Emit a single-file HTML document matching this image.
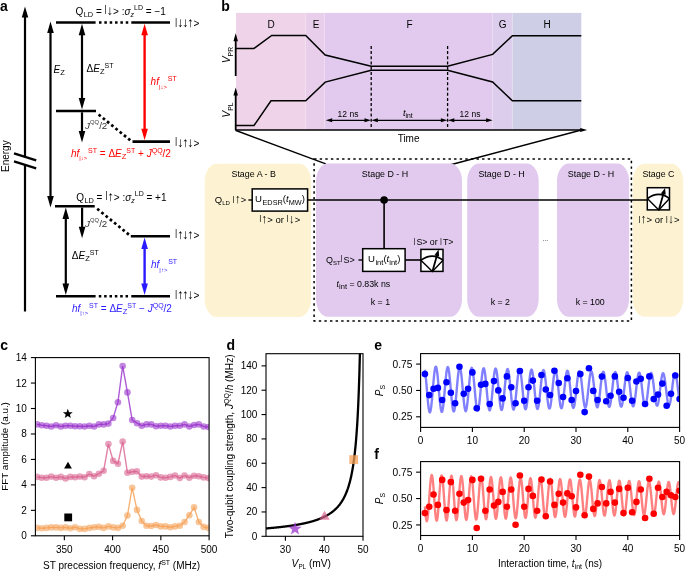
<!DOCTYPE html>
<html><head><meta charset="utf-8"><title>Figure</title>
<style>
html,body{margin:0;padding:0;background:#fff;}
svg{display:block;font-family:"Liberation Sans", Arial, sans-serif;}
</style></head>
<body>
<svg width="685" height="571" viewBox="0 0 685 571">
<rect width="685" height="571" fill="#fff"/>
<text x="0.00" y="10.90" font-size="14" text-anchor="start" fill="#000" font-weight="bold" font-style="normal" >a</text>
<line x1="25.00" y1="311.50" x2="25.00" y2="164.60" stroke="#000" stroke-width="2.2" />
<line x1="25.00" y1="157.00" x2="25.00" y2="16.00" stroke="#000" stroke-width="2.2" />
<polygon points="25.00,6.60 28.25,17.60 21.75,17.60" fill="#000"/>
<line x1="14.00" y1="153.30" x2="36.20" y2="160.40" stroke="#000" stroke-width="2.3" />
<line x1="14.00" y1="161.40" x2="36.20" y2="168.30" stroke="#000" stroke-width="2.3" />
<text x="8.80" y="156.20" font-size="10" text-anchor="middle" fill="#000" font-weight="normal" font-style="normal" transform="rotate(-90 8.8 156.2)">Energy</text>
<line x1="56.00" y1="22.50" x2="95.60" y2="22.50" stroke="#000" stroke-width="2.6" />
<line x1="99.00" y1="22.50" x2="128.40" y2="22.50" stroke="#000" stroke-width="2.6" stroke-dasharray="2.5,2.85"/>
<line x1="131.30" y1="22.50" x2="170.00" y2="22.50" stroke="#000" stroke-width="2.6" />
<line x1="56.00" y1="111.00" x2="96.00" y2="111.00" stroke="#000" stroke-width="2.6" />
<line x1="98.60" y1="114.50" x2="131.60" y2="141.40" stroke="#000" stroke-width="2.7" stroke-dasharray="2.7,2.75"/>
<line x1="132.50" y1="141.60" x2="170.00" y2="141.60" stroke="#000" stroke-width="2.6" />
<line x1="55.00" y1="206.30" x2="94.70" y2="206.30" stroke="#000" stroke-width="2.6" />
<line x1="97.20" y1="208.80" x2="130.60" y2="236.00" stroke="#000" stroke-width="2.7" stroke-dasharray="2.7,2.75"/>
<line x1="130.80" y1="236.20" x2="170.00" y2="236.20" stroke="#000" stroke-width="2.6" />
<line x1="56.00" y1="296.30" x2="95.60" y2="296.30" stroke="#000" stroke-width="2.6" />
<line x1="98.80" y1="296.30" x2="128.20" y2="296.30" stroke="#000" stroke-width="2.6" stroke-dasharray="2.5,2.85"/>
<line x1="131.30" y1="296.30" x2="170.00" y2="296.30" stroke="#000" stroke-width="2.6" />
<line x1="50.50" y1="197.00" x2="50.50" y2="32.10" stroke="#000" stroke-width="2.2" />
<polygon points="50.50,21.60 53.80,33.10 47.20,33.10" fill="#000"/>
<polygon points="50.50,207.50 47.20,196.00 53.80,196.00" fill="#000"/>
<line x1="82.00" y1="99.10" x2="82.00" y2="34.30" stroke="#000" stroke-width="2.2" />
<polygon points="82.00,23.80 85.30,35.30 78.70,35.30" fill="#000"/>
<polygon points="82.00,109.60 78.70,98.10 85.30,98.10" fill="#000"/>
<line x1="82.00" y1="112.30" x2="82.00" y2="132.00" stroke="#000" stroke-width="2.2" />
<polygon points="82.00,142.50 78.70,131.00 85.30,131.00" fill="#000"/>
<line x1="144.60" y1="129.70" x2="144.60" y2="34.30" stroke="#f00" stroke-width="2.4" />
<polygon points="144.60,23.80 147.90,35.30 141.30,35.30" fill="#f00"/>
<polygon points="144.60,140.20 141.30,128.70 147.90,128.70" fill="#f00"/>
<line x1="65.80" y1="284.50" x2="65.80" y2="218.10" stroke="#000" stroke-width="2.2" />
<polygon points="65.80,207.60 69.10,219.10 62.50,219.10" fill="#000"/>
<polygon points="65.80,295.00 62.50,283.50 69.10,283.50" fill="#000"/>
<line x1="82.10" y1="207.60" x2="82.10" y2="227.70" stroke="#000" stroke-width="2.2" />
<polygon points="82.10,238.20 78.80,226.70 85.40,226.70" fill="#000"/>
<line x1="144.60" y1="284.50" x2="144.60" y2="248.10" stroke="#2a1aff" stroke-width="2.4" />
<polygon points="144.60,237.60 147.90,249.10 141.30,249.10" fill="#2a1aff"/>
<polygon points="144.60,295.00 141.30,283.50 147.90,283.50" fill="#2a1aff"/>
<text x="75.6" y="14.5" font-size="10" fill="#000">Q<tspan font-size="7.4" dy="2.3" dx="0.3">LD</tspan><tspan dy="-2.3"> = </tspan><tspan font-size="8.50" dy="-2.50">|</tspan><tspan font-size="13.50" dy="2.50" dx="-0.20">↓</tspan><tspan dx="-0.20">&gt; :</tspan><tspan font-style="italic">σ</tspan><tspan font-style="italic" font-size="7" dy="2">z</tspan><tspan font-size="7" dy="-6.5">LD</tspan><tspan dy="4.5"> = −1</tspan></text>
<text x="76.3" y="200.5" font-size="10" fill="#000">Q<tspan font-size="7.4" dy="2.3" dx="0.3">LD</tspan><tspan dy="-2.3"> = </tspan><tspan font-size="8.50" dy="-2.50">|</tspan><tspan font-size="13.50" dy="2.50" dx="-0.20">↑</tspan><tspan dx="-0.20">&gt; :</tspan><tspan font-style="italic">σ</tspan><tspan font-style="italic" font-size="7" dy="2">z</tspan><tspan font-size="7" dy="-6.5">LD</tspan><tspan dy="4.5"> = +1</tspan></text>
<text x="175.00" y="27.40" font-size="10" text-anchor="start" fill="#000" font-weight="normal" font-style="normal" ><tspan font-size="8.50" dy="-2.50">|</tspan><tspan font-size="13.50" dy="2.50" dx="-0.20">↓</tspan><tspan font-size="13.50" dx="-1.75">↓</tspan><tspan font-size="13.50" dx="-1.75">↑</tspan><tspan dx="-0.20">&gt;</tspan></text>
<text x="175.00" y="146.60" font-size="10" text-anchor="start" fill="#000" font-weight="normal" font-style="normal" ><tspan font-size="8.50" dy="-2.50">|</tspan><tspan font-size="13.50" dy="2.50" dx="-0.20">↓</tspan><tspan font-size="13.50" dx="-1.75">↑</tspan><tspan font-size="13.50" dx="-1.75">↓</tspan><tspan dx="-0.20">&gt;</tspan></text>
<text x="175.00" y="238.70" font-size="10" text-anchor="start" fill="#000" font-weight="normal" font-style="normal" ><tspan font-size="8.50" dy="-2.50">|</tspan><tspan font-size="13.50" dy="2.50" dx="-0.20">↑</tspan><tspan font-size="13.50" dx="-1.75">↓</tspan><tspan font-size="13.50" dx="-1.75">↑</tspan><tspan dx="-0.20">&gt;</tspan></text>
<text x="175.00" y="299.20" font-size="10" text-anchor="start" fill="#000" font-weight="normal" font-style="normal" ><tspan font-size="8.50" dy="-2.50">|</tspan><tspan font-size="13.50" dy="2.50" dx="-0.20">↑</tspan><tspan font-size="13.50" dx="-1.75">↑</tspan><tspan font-size="13.50" dx="-1.75">↓</tspan><tspan dx="-0.20">&gt;</tspan></text>
<text x="53.6" y="73.4" font-size="10"><tspan font-style="italic">E</tspan><tspan font-size="7.5" dy="1.5">Z</tspan></text>
<text x="86.6" y="72.4" font-size="10" fill="#000" text-anchor="start" ><tspan>Δ</tspan><tspan font-style="italic">E</tspan><tspan font-size="7.5" dy="1.80">Z</tspan><tspan font-size="7" dy="-6.00">ST</tspan></text>
<text x="71.8" y="259.3" font-size="10" fill="#000" text-anchor="start" ><tspan>Δ</tspan><tspan font-style="italic">E</tspan><tspan font-size="7.5" dy="1.80">Z</tspan><tspan font-size="7" dy="-6.00">ST</tspan></text>
<text x="85.0" y="129.0" font-size="9.8" fill="#333" text-anchor="start" ><tspan font-style="italic">J</tspan><tspan font-size="5.8" dy="-4.60" dx="0.2">QQ</tspan><tspan dy="4.60">/2</tspan></text>
<text x="85.0" y="226.7" font-size="9.8" fill="#333" text-anchor="start" ><tspan font-style="italic">J</tspan><tspan font-size="5.8" dy="-4.60" dx="0.2">QQ</tspan><tspan dy="4.60">/2</tspan></text>
<text x="150.6" y="85.3" font-size="10" fill="#f00" text-anchor="start" ><tspan font-style="italic">hf</tspan><tspan font-size="6" dy="3.40">|↓&gt;</tspan><tspan font-size="7" dy="-7.60" dx="0.8">ST</tspan></text>
<text x="151.0" y="268.3" font-size="10" fill="#2a1aff" text-anchor="start" ><tspan font-style="italic">hf</tspan><tspan font-size="6" dy="3.40">|↑&gt;</tspan><tspan font-size="7" dy="-7.60" dx="0.8">ST</tspan></text>
<text x="71.0" y="156.5" font-size="10" fill="#f00" text-anchor="start" ><tspan font-style="italic">hf</tspan><tspan font-size="5.8" dy="3.80">|↓&gt;</tspan><tspan font-size="7" dy="-7.80" dx="0.9">ST</tspan><tspan dy="4.00"> = Δ</tspan><tspan font-style="italic">E</tspan><tspan font-size="7.5" dy="2.80">Z</tspan><tspan font-size="7" dy="-6.80">ST</tspan><tspan dy="4.00"> + </tspan><tspan font-style="italic">J</tspan><tspan font-size="7" dy="-3.20">QQ</tspan><tspan dy="3.20">/2</tspan></text>
<text x="72.0" y="311.6" font-size="10" fill="#2a1aff" text-anchor="start" ><tspan font-style="italic">hf</tspan><tspan font-size="5.8" dy="3.80">|↑&gt;</tspan><tspan font-size="7" dy="-7.80" dx="0.9">ST</tspan><tspan dy="4.00"> = Δ</tspan><tspan font-style="italic">E</tspan><tspan font-size="7.5" dy="2.80">Z</tspan><tspan font-size="7" dy="-6.80">ST</tspan><tspan dy="4.00"> − </tspan><tspan font-style="italic">J</tspan><tspan font-size="7" dy="-3.20">QQ</tspan><tspan dy="3.20">/2</tspan></text>
<text x="221.20" y="10.90" font-size="14" text-anchor="start" fill="#000" font-weight="bold" font-style="normal" >b</text>
<rect x="236" y="12.9" width="69.7" height="116.9" fill="#efd4e9"/>
<rect x="305.7" y="12.9" width="19" height="116.9" fill="#e9ceeb"/>
<rect x="324.7" y="12.9" width="167.9" height="116.9" fill="#e1caee"/>
<rect x="492.6" y="12.9" width="19.8" height="116.9" fill="#dccdec"/>
<rect x="512.4" y="12.9" width="68.9" height="116.9" fill="#cecfe6"/>
<line x1="305.50" y1="12.90" x2="305.50" y2="129.80" stroke="#f4eaf4" stroke-width="0.8" opacity="0.4"/>
<line x1="324.60" y1="12.90" x2="324.60" y2="129.80" stroke="#f4eaf4" stroke-width="0.8" opacity="0.4"/>
<line x1="492.40" y1="12.90" x2="492.40" y2="129.80" stroke="#f4eaf4" stroke-width="0.8" opacity="0.4"/>
<line x1="512.20" y1="12.90" x2="512.20" y2="129.80" stroke="#f4eaf4" stroke-width="0.8" opacity="0.4"/>
<text x="271.00" y="27.90" font-size="10" text-anchor="middle" fill="#000" font-weight="normal" font-style="normal" >D</text>
<text x="316.00" y="27.90" font-size="10" text-anchor="middle" fill="#000" font-weight="normal" font-style="normal" >E</text>
<text x="409.60" y="27.90" font-size="10" text-anchor="middle" fill="#000" font-weight="normal" font-style="normal" >F</text>
<text x="502.60" y="27.90" font-size="10" text-anchor="middle" fill="#000" font-weight="normal" font-style="normal" >G</text>
<text x="547.00" y="27.90" font-size="10" text-anchor="middle" fill="#000" font-weight="normal" font-style="normal" >H</text>
<line x1="235.70" y1="76.00" x2="235.70" y2="40.20" stroke="#000" stroke-width="1.8" />
<polygon points="235.70,33.20 237.95,41.20 233.45,41.20" fill="#000"/>
<line x1="235.70" y1="130.00" x2="235.70" y2="94.50" stroke="#000" stroke-width="1.8" />
<polygon points="235.70,87.50 237.95,95.50 233.45,95.50" fill="#000"/>
<line x1="235.00" y1="130.00" x2="581.20" y2="130.00" stroke="#000" stroke-width="1.7" />
<polygon points="587.20,130.00 580.20,132.10 580.20,127.90" fill="#000"/>
<text x="230.4" y="55" font-size="10" text-anchor="middle" transform="rotate(-90 230.4 55)"><tspan font-style="italic">V</tspan><tspan font-size="6.8" dy="2.4">PR</tspan></text>
<text x="230.4" y="110" font-size="10" text-anchor="middle" transform="rotate(-90 230.4 110)"><tspan font-style="italic">V</tspan><tspan font-size="6.8" dy="2.4">PL</tspan></text>
<polyline points="236.00,48.40 254.00,48.40 271.70,35.50 305.70,35.50 325.20,55.00 371.20,66.20 447.60,66.20 492.60,54.40 512.40,35.70 581.30,35.70" fill="none" stroke="#000" stroke-width="1.5" stroke-linejoin="miter" />
<polyline points="236.00,125.50 254.00,125.50 271.00,100.80 305.70,100.80 325.20,82.10 371.20,70.20 447.60,70.20 492.60,82.00 512.40,100.80 581.30,100.80" fill="none" stroke="#000" stroke-width="1.5" stroke-linejoin="miter" />
<line x1="371.20" y1="45.90" x2="371.20" y2="129.00" stroke="#000" stroke-width="1.3" stroke-dasharray="3,2.2"/>
<line x1="447.60" y1="45.90" x2="447.60" y2="129.00" stroke="#000" stroke-width="1.3" stroke-dasharray="3,2.2"/>
<line x1="331.20" y1="120.30" x2="365.50" y2="120.30" stroke="#000" stroke-width="1.2" />
<polygon points="371.00,120.30 364.50,122.30 364.50,118.30" fill="#000"/>
<polygon points="325.70,120.30 332.20,118.30 332.20,122.30" fill="#000"/>
<line x1="376.90" y1="120.30" x2="441.90" y2="120.30" stroke="#000" stroke-width="1.2" />
<polygon points="447.40,120.30 440.90,122.30 440.90,118.30" fill="#000"/>
<polygon points="371.40,120.30 377.90,118.30 377.90,122.30" fill="#000"/>
<line x1="453.30" y1="120.30" x2="487.10" y2="120.30" stroke="#000" stroke-width="1.2" />
<polygon points="492.60,120.30 486.10,122.30 486.10,118.30" fill="#000"/>
<polygon points="447.80,120.30 454.30,118.30 454.30,122.30" fill="#000"/>
<text x="348.00" y="116.50" font-size="8.5" text-anchor="middle" fill="#000" font-weight="normal" font-style="normal" >12 ns</text>
<text x="470.00" y="116.50" font-size="8.5" text-anchor="middle" fill="#000" font-weight="normal" font-style="normal" >12 ns</text>
<text x="407.8" y="116" font-size="9.5" text-anchor="middle"><tspan font-style="italic">t</tspan><tspan font-size="6.8" dy="2.2">int</tspan></text>
<text x="408.60" y="142.00" font-size="10" text-anchor="middle" fill="#000" font-weight="normal" font-style="normal" >Time</text>
<line x1="236.00" y1="130.50" x2="325.80" y2="163.80" stroke="#000" stroke-width="1.4" />
<line x1="580.50" y1="130.30" x2="450.60" y2="164.80" stroke="#000" stroke-width="1.4" />
<rect x="204.7" y="163.7" width="106.30" height="153.20" rx="12" ry="18" fill="#fdf3d2"/>
<rect x="316" y="163.5" width="146.00" height="153.30" rx="12" ry="18" fill="#e1caee"/>
<rect x="467.2" y="163.5" width="71.50" height="153.30" rx="12" ry="18" fill="#e1caee"/>
<rect x="557" y="163.5" width="72.10" height="153.30" rx="12" ry="18" fill="#e1caee"/>
<rect x="632.7" y="163.7" width="50.50" height="153.00" rx="12" ry="18" fill="#fdf3d2"/>
<rect x="314.1" y="158.9" width="317.3" height="162.1" fill="none" stroke="#000" stroke-width="1.5" stroke-dasharray="2.4,3.2"/>
<text x="253.70" y="177.00" font-size="8.9" text-anchor="middle" fill="#000" font-weight="normal" font-style="normal" >Stage A - B</text>
<text x="385.00" y="177.10" font-size="8.9" text-anchor="middle" fill="#000" font-weight="normal" font-style="normal" >Stage D - H</text>
<text x="501.60" y="177.20" font-size="8.9" text-anchor="middle" fill="#000" font-weight="normal" font-style="normal" >Stage D - H</text>
<text x="591.00" y="177.40" font-size="8.9" text-anchor="middle" fill="#000" font-weight="normal" font-style="normal" >Stage D - H</text>
<text x="658.50" y="177.40" font-size="8.9" text-anchor="middle" fill="#000" font-weight="normal" font-style="normal" >Stage C</text>
<line x1="248.40" y1="200.00" x2="252.20" y2="200.00" stroke="#000" stroke-width="1.4" />
<line x1="307.60" y1="200.00" x2="647.50" y2="200.00" stroke="#000" stroke-width="1.4" />
<rect x="252.2" y="188.9" width="55.4" height="22.2" fill="#fff" stroke="#000" stroke-width="1.5"/>
<text x="279.9" y="201.6" font-size="9.6" text-anchor="middle">U<tspan font-size="7.3" dy="3.2" dx="0.6">EDSR</tspan><tspan dy="-3.2">(</tspan><tspan font-style="italic">t</tspan><tspan font-size="7.3" dy="3.2">MW</tspan><tspan dy="-3.2">)</tspan></text>
<text x="214.8" y="203.4" font-size="9.5">Q<tspan font-size="6" dy="1.8">LD</tspan><tspan dy="-1.8"> </tspan><tspan font-size="8.07" dy="-2.38">|</tspan><tspan font-size="12.83" dy="2.38" dx="-0.19">↑</tspan><tspan dx="-0.19">&gt;</tspan></text>
<text x="279.70" y="222.60" font-size="9.5" text-anchor="middle" fill="#000" font-weight="normal" font-style="normal" ><tspan font-size="8.07" dy="-2.38">|</tspan><tspan font-size="12.83" dy="2.38" dx="-0.19">↑</tspan><tspan dx="-0.19">&gt; or </tspan><tspan font-size="8.07" dy="-2.38">|</tspan><tspan font-size="12.83" dy="2.38" dx="-0.19">↓</tspan><tspan dx="-0.19">&gt;</tspan></text>
<circle cx="384.1" cy="200" r="3.8" fill="#000"/>
<line x1="384.10" y1="200.00" x2="384.10" y2="248.70" stroke="#000" stroke-width="1.6" />
<line x1="358.50" y1="260.00" x2="362.70" y2="260.00" stroke="#000" stroke-width="1.4" />
<line x1="405.10" y1="260.00" x2="420.90" y2="260.00" stroke="#000" stroke-width="1.6" />
<rect x="362.7" y="248.7" width="42.4" height="22.7" fill="#fff" stroke="#000" stroke-width="1.5"/>
<text x="384.2" y="261.5" font-size="9.6" text-anchor="middle">U<tspan font-size="7.5" dy="3" dx="0.5">int</tspan><tspan dy="-3">(</tspan><tspan font-style="italic">t</tspan><tspan font-size="7.5" dy="3">int</tspan><tspan dy="-3">)</tspan></text>
<text x="325.9" y="262.6" font-size="9">Q<tspan font-size="6" dy="2.6">ST</tspan><tspan font-size="7.65" dy="-4.85">|</tspan><tspan dy="2.25" dx="0.90">S&gt;</tspan></text>
<text x="433.50" y="245.20" font-size="8.8" text-anchor="middle" fill="#000" font-weight="normal" font-style="normal" ><tspan font-size="7.48" dy="-2.20">|</tspan><tspan dy="2.20" dx="0.88">S&gt; or </tspan><tspan font-size="7.48" dy="-2.20">|</tspan><tspan dy="2.20" dx="0.88">T&gt;</tspan></text>
<text x="336.6" y="286.6" font-size="8.8"><tspan font-style="italic">t</tspan><tspan font-size="7.5" dy="2.2">int</tspan><tspan dy="-2.2"> = 0.83k ns</tspan></text>
<text x="380.40" y="304.60" font-size="8.8" text-anchor="middle" fill="#000" font-weight="normal" font-style="normal" >k = 1</text>
<text x="500.30" y="305.20" font-size="8.8" text-anchor="middle" fill="#000" font-weight="normal" font-style="normal" >k = 2</text>
<text x="590.20" y="305.20" font-size="8.8" text-anchor="middle" fill="#000" font-weight="normal" font-style="normal" >k = 100</text>
<text x="545.40" y="240.80" font-size="7" text-anchor="middle" fill="#333" font-weight="normal" font-style="normal" >...</text>
<rect x="420.9" y="249.4" width="22.10" height="22.00" fill="#fff" stroke="#000" stroke-width="1.5"/>
<path d="M420.90,260.18 L432.39,271.40 L443.00,260.18" fill="none" stroke="#000" stroke-width="1.4"/>
<path d="M420.90,260.18 Q432.39,252.04 443.00,260.18" fill="none" stroke="#000" stroke-width="1.7"/>
<line x1="432.39" y1="271.40" x2="437.08" y2="254.89" stroke="#000" stroke-width="1.8" />
<polygon points="438.58,249.60 439.21,256.54 434.40,255.17" fill="#000"/>
<rect x="647.3" y="187.7" width="22.20" height="22.20" fill="#fff" stroke="#000" stroke-width="1.5"/>
<path d="M647.30,198.58 L658.84,209.90 L669.50,198.58" fill="none" stroke="#000" stroke-width="1.4"/>
<path d="M647.30,198.58 Q658.84,190.36 669.50,198.58" fill="none" stroke="#000" stroke-width="1.7"/>
<line x1="658.84" y1="209.90" x2="663.56" y2="193.19" stroke="#000" stroke-width="1.8" />
<polygon points="665.06,187.90 665.70,194.83 660.89,193.48" fill="#000"/>
<text x="659.00" y="223.20" font-size="9.5" text-anchor="middle" fill="#000" font-weight="normal" font-style="normal" ><tspan font-size="8.07" dy="-2.38">|</tspan><tspan font-size="12.83" dy="2.38" dx="-0.19">↑</tspan><tspan dx="-0.19">&gt; or </tspan><tspan font-size="8.07" dy="-2.38">|</tspan><tspan font-size="12.83" dy="2.38" dx="-0.19">↓</tspan><tspan dx="-0.19">&gt;</tspan></text>
<text x="0.20" y="349.60" font-size="14" text-anchor="start" fill="#000" font-weight="bold" font-style="normal" >c</text>
<clipPath id="cclip"><rect x="35.4" y="357.6" width="173.7" height="178.19999999999993"/></clipPath>
<g clip-path="url(#cclip)">
<polyline points="37.00,527.90 41.76,528.30 46.52,527.90 51.28,527.40 56.04,527.40 60.80,527.90 65.56,527.40 70.32,528.30 75.08,527.20 79.84,528.90 84.60,528.90 89.36,527.90 94.12,527.20 98.88,526.90 103.64,527.90 108.40,526.40 113.16,527.40 117.92,527.90 122.68,525.70 127.44,515.50 132.20,487.70 136.96,509.90 141.72,521.00 146.48,525.70 151.24,526.00 156.00,525.00 160.76,526.40 165.52,526.40 170.28,527.20 175.04,526.40 179.80,525.70 184.56,522.00 189.32,515.20 194.08,507.40 198.84,522.00 203.60,526.90 208.36,527.90" fill="none" stroke="#f5a055" stroke-width="1.4" stroke-linejoin="miter" opacity="0.8"/>
<circle cx="37.00" cy="527.90" r="3.3" fill="#f5a055" fill-opacity="0.6"/>
<circle cx="41.76" cy="528.30" r="3.3" fill="#f5a055" fill-opacity="0.6"/>
<circle cx="46.52" cy="527.90" r="3.3" fill="#f5a055" fill-opacity="0.6"/>
<circle cx="51.28" cy="527.40" r="3.3" fill="#f5a055" fill-opacity="0.6"/>
<circle cx="56.04" cy="527.40" r="3.3" fill="#f5a055" fill-opacity="0.6"/>
<circle cx="60.80" cy="527.90" r="3.3" fill="#f5a055" fill-opacity="0.6"/>
<circle cx="65.56" cy="527.40" r="3.3" fill="#f5a055" fill-opacity="0.6"/>
<circle cx="70.32" cy="528.30" r="3.3" fill="#f5a055" fill-opacity="0.6"/>
<circle cx="75.08" cy="527.20" r="3.3" fill="#f5a055" fill-opacity="0.6"/>
<circle cx="79.84" cy="528.90" r="3.3" fill="#f5a055" fill-opacity="0.6"/>
<circle cx="84.60" cy="528.90" r="3.3" fill="#f5a055" fill-opacity="0.6"/>
<circle cx="89.36" cy="527.90" r="3.3" fill="#f5a055" fill-opacity="0.6"/>
<circle cx="94.12" cy="527.20" r="3.3" fill="#f5a055" fill-opacity="0.6"/>
<circle cx="98.88" cy="526.90" r="3.3" fill="#f5a055" fill-opacity="0.6"/>
<circle cx="103.64" cy="527.90" r="3.3" fill="#f5a055" fill-opacity="0.6"/>
<circle cx="108.40" cy="526.40" r="3.3" fill="#f5a055" fill-opacity="0.6"/>
<circle cx="113.16" cy="527.40" r="3.3" fill="#f5a055" fill-opacity="0.6"/>
<circle cx="117.92" cy="527.90" r="3.3" fill="#f5a055" fill-opacity="0.6"/>
<circle cx="122.68" cy="525.70" r="3.3" fill="#f5a055" fill-opacity="0.6"/>
<circle cx="127.44" cy="515.50" r="3.3" fill="#f5a055" fill-opacity="0.6"/>
<circle cx="132.20" cy="487.70" r="3.3" fill="#f5a055" fill-opacity="0.6"/>
<circle cx="136.96" cy="509.90" r="3.3" fill="#f5a055" fill-opacity="0.6"/>
<circle cx="141.72" cy="521.00" r="3.3" fill="#f5a055" fill-opacity="0.6"/>
<circle cx="146.48" cy="525.70" r="3.3" fill="#f5a055" fill-opacity="0.6"/>
<circle cx="151.24" cy="526.00" r="3.3" fill="#f5a055" fill-opacity="0.6"/>
<circle cx="156.00" cy="525.00" r="3.3" fill="#f5a055" fill-opacity="0.6"/>
<circle cx="160.76" cy="526.40" r="3.3" fill="#f5a055" fill-opacity="0.6"/>
<circle cx="165.52" cy="526.40" r="3.3" fill="#f5a055" fill-opacity="0.6"/>
<circle cx="170.28" cy="527.20" r="3.3" fill="#f5a055" fill-opacity="0.6"/>
<circle cx="175.04" cy="526.40" r="3.3" fill="#f5a055" fill-opacity="0.6"/>
<circle cx="179.80" cy="525.70" r="3.3" fill="#f5a055" fill-opacity="0.6"/>
<circle cx="184.56" cy="522.00" r="3.3" fill="#f5a055" fill-opacity="0.6"/>
<circle cx="189.32" cy="515.20" r="3.3" fill="#f5a055" fill-opacity="0.6"/>
<circle cx="194.08" cy="507.40" r="3.3" fill="#f5a055" fill-opacity="0.6"/>
<circle cx="198.84" cy="522.00" r="3.3" fill="#f5a055" fill-opacity="0.6"/>
<circle cx="203.60" cy="526.90" r="3.3" fill="#f5a055" fill-opacity="0.6"/>
<circle cx="208.36" cy="527.90" r="3.3" fill="#f5a055" fill-opacity="0.6"/>
<polyline points="37.00,476.90 41.76,477.70 46.52,477.70 51.28,476.60 56.04,477.70 60.80,476.90 65.56,478.40 70.32,476.90 75.08,477.20 79.84,476.60 84.60,477.20 89.36,474.00 94.12,476.20 98.88,473.70 103.64,470.80 108.40,444.10 113.16,460.90 117.92,463.80 122.68,441.60 127.44,472.80 132.20,471.80 136.96,471.40 141.72,476.60 146.48,476.20 151.24,476.60 156.00,475.20 160.76,477.40 165.52,477.70 170.28,476.90 175.04,475.50 179.80,478.10 184.56,475.50 189.32,477.70 194.08,475.80 198.84,476.20 203.60,477.40 208.36,478.10" fill="none" stroke="#d9628f" stroke-width="1.4" stroke-linejoin="miter" opacity="0.8"/>
<circle cx="37.00" cy="476.90" r="3.3" fill="#d9628f" fill-opacity="0.6"/>
<circle cx="41.76" cy="477.70" r="3.3" fill="#d9628f" fill-opacity="0.6"/>
<circle cx="46.52" cy="477.70" r="3.3" fill="#d9628f" fill-opacity="0.6"/>
<circle cx="51.28" cy="476.60" r="3.3" fill="#d9628f" fill-opacity="0.6"/>
<circle cx="56.04" cy="477.70" r="3.3" fill="#d9628f" fill-opacity="0.6"/>
<circle cx="60.80" cy="476.90" r="3.3" fill="#d9628f" fill-opacity="0.6"/>
<circle cx="65.56" cy="478.40" r="3.3" fill="#d9628f" fill-opacity="0.6"/>
<circle cx="70.32" cy="476.90" r="3.3" fill="#d9628f" fill-opacity="0.6"/>
<circle cx="75.08" cy="477.20" r="3.3" fill="#d9628f" fill-opacity="0.6"/>
<circle cx="79.84" cy="476.60" r="3.3" fill="#d9628f" fill-opacity="0.6"/>
<circle cx="84.60" cy="477.20" r="3.3" fill="#d9628f" fill-opacity="0.6"/>
<circle cx="89.36" cy="474.00" r="3.3" fill="#d9628f" fill-opacity="0.6"/>
<circle cx="94.12" cy="476.20" r="3.3" fill="#d9628f" fill-opacity="0.6"/>
<circle cx="98.88" cy="473.70" r="3.3" fill="#d9628f" fill-opacity="0.6"/>
<circle cx="103.64" cy="470.80" r="3.3" fill="#d9628f" fill-opacity="0.6"/>
<circle cx="108.40" cy="444.10" r="3.3" fill="#d9628f" fill-opacity="0.6"/>
<circle cx="113.16" cy="460.90" r="3.3" fill="#d9628f" fill-opacity="0.6"/>
<circle cx="117.92" cy="463.80" r="3.3" fill="#d9628f" fill-opacity="0.6"/>
<circle cx="122.68" cy="441.60" r="3.3" fill="#d9628f" fill-opacity="0.6"/>
<circle cx="127.44" cy="472.80" r="3.3" fill="#d9628f" fill-opacity="0.6"/>
<circle cx="132.20" cy="471.80" r="3.3" fill="#d9628f" fill-opacity="0.6"/>
<circle cx="136.96" cy="471.40" r="3.3" fill="#d9628f" fill-opacity="0.6"/>
<circle cx="141.72" cy="476.60" r="3.3" fill="#d9628f" fill-opacity="0.6"/>
<circle cx="146.48" cy="476.20" r="3.3" fill="#d9628f" fill-opacity="0.6"/>
<circle cx="151.24" cy="476.60" r="3.3" fill="#d9628f" fill-opacity="0.6"/>
<circle cx="156.00" cy="475.20" r="3.3" fill="#d9628f" fill-opacity="0.6"/>
<circle cx="160.76" cy="477.40" r="3.3" fill="#d9628f" fill-opacity="0.6"/>
<circle cx="165.52" cy="477.70" r="3.3" fill="#d9628f" fill-opacity="0.6"/>
<circle cx="170.28" cy="476.90" r="3.3" fill="#d9628f" fill-opacity="0.6"/>
<circle cx="175.04" cy="475.50" r="3.3" fill="#d9628f" fill-opacity="0.6"/>
<circle cx="179.80" cy="478.10" r="3.3" fill="#d9628f" fill-opacity="0.6"/>
<circle cx="184.56" cy="475.50" r="3.3" fill="#d9628f" fill-opacity="0.6"/>
<circle cx="189.32" cy="477.70" r="3.3" fill="#d9628f" fill-opacity="0.6"/>
<circle cx="194.08" cy="475.80" r="3.3" fill="#d9628f" fill-opacity="0.6"/>
<circle cx="198.84" cy="476.20" r="3.3" fill="#d9628f" fill-opacity="0.6"/>
<circle cx="203.60" cy="477.40" r="3.3" fill="#d9628f" fill-opacity="0.6"/>
<circle cx="208.36" cy="478.10" r="3.3" fill="#d9628f" fill-opacity="0.6"/>
<polyline points="37.00,424.40 41.76,425.30 46.52,425.70 51.28,426.50 56.04,425.30 60.80,426.50 65.56,425.70 70.32,425.70 75.08,426.20 79.84,426.20 84.60,426.50 89.36,425.70 94.12,426.50 98.88,424.40 103.64,424.40 108.40,423.60 113.16,418.00 117.92,402.20 122.68,366.10 127.44,392.40 132.20,420.00 136.96,423.20 141.72,425.70 146.48,424.40 151.24,424.40 156.00,426.20 160.76,425.80 165.52,425.70 170.28,426.50 175.04,425.80 179.80,425.80 184.56,424.40 189.32,426.50 194.08,425.00 198.84,424.40 203.60,426.50 208.36,427.00" fill="none" stroke="#9933cc" stroke-width="1.4" stroke-linejoin="miter" opacity="0.8"/>
<circle cx="37.00" cy="424.40" r="3.3" fill="#9933cc" fill-opacity="0.6"/>
<circle cx="41.76" cy="425.30" r="3.3" fill="#9933cc" fill-opacity="0.6"/>
<circle cx="46.52" cy="425.70" r="3.3" fill="#9933cc" fill-opacity="0.6"/>
<circle cx="51.28" cy="426.50" r="3.3" fill="#9933cc" fill-opacity="0.6"/>
<circle cx="56.04" cy="425.30" r="3.3" fill="#9933cc" fill-opacity="0.6"/>
<circle cx="60.80" cy="426.50" r="3.3" fill="#9933cc" fill-opacity="0.6"/>
<circle cx="65.56" cy="425.70" r="3.3" fill="#9933cc" fill-opacity="0.6"/>
<circle cx="70.32" cy="425.70" r="3.3" fill="#9933cc" fill-opacity="0.6"/>
<circle cx="75.08" cy="426.20" r="3.3" fill="#9933cc" fill-opacity="0.6"/>
<circle cx="79.84" cy="426.20" r="3.3" fill="#9933cc" fill-opacity="0.6"/>
<circle cx="84.60" cy="426.50" r="3.3" fill="#9933cc" fill-opacity="0.6"/>
<circle cx="89.36" cy="425.70" r="3.3" fill="#9933cc" fill-opacity="0.6"/>
<circle cx="94.12" cy="426.50" r="3.3" fill="#9933cc" fill-opacity="0.6"/>
<circle cx="98.88" cy="424.40" r="3.3" fill="#9933cc" fill-opacity="0.6"/>
<circle cx="103.64" cy="424.40" r="3.3" fill="#9933cc" fill-opacity="0.6"/>
<circle cx="108.40" cy="423.60" r="3.3" fill="#9933cc" fill-opacity="0.6"/>
<circle cx="113.16" cy="418.00" r="3.3" fill="#9933cc" fill-opacity="0.6"/>
<circle cx="117.92" cy="402.20" r="3.3" fill="#9933cc" fill-opacity="0.6"/>
<circle cx="122.68" cy="366.10" r="3.3" fill="#9933cc" fill-opacity="0.6"/>
<circle cx="127.44" cy="392.40" r="3.3" fill="#9933cc" fill-opacity="0.6"/>
<circle cx="132.20" cy="420.00" r="3.3" fill="#9933cc" fill-opacity="0.6"/>
<circle cx="136.96" cy="423.20" r="3.3" fill="#9933cc" fill-opacity="0.6"/>
<circle cx="141.72" cy="425.70" r="3.3" fill="#9933cc" fill-opacity="0.6"/>
<circle cx="146.48" cy="424.40" r="3.3" fill="#9933cc" fill-opacity="0.6"/>
<circle cx="151.24" cy="424.40" r="3.3" fill="#9933cc" fill-opacity="0.6"/>
<circle cx="156.00" cy="426.20" r="3.3" fill="#9933cc" fill-opacity="0.6"/>
<circle cx="160.76" cy="425.80" r="3.3" fill="#9933cc" fill-opacity="0.6"/>
<circle cx="165.52" cy="425.70" r="3.3" fill="#9933cc" fill-opacity="0.6"/>
<circle cx="170.28" cy="426.50" r="3.3" fill="#9933cc" fill-opacity="0.6"/>
<circle cx="175.04" cy="425.80" r="3.3" fill="#9933cc" fill-opacity="0.6"/>
<circle cx="179.80" cy="425.80" r="3.3" fill="#9933cc" fill-opacity="0.6"/>
<circle cx="184.56" cy="424.40" r="3.3" fill="#9933cc" fill-opacity="0.6"/>
<circle cx="189.32" cy="426.50" r="3.3" fill="#9933cc" fill-opacity="0.6"/>
<circle cx="194.08" cy="425.00" r="3.3" fill="#9933cc" fill-opacity="0.6"/>
<circle cx="198.84" cy="424.40" r="3.3" fill="#9933cc" fill-opacity="0.6"/>
<circle cx="203.60" cy="426.50" r="3.3" fill="#9933cc" fill-opacity="0.6"/>
<circle cx="208.36" cy="427.00" r="3.3" fill="#9933cc" fill-opacity="0.6"/>
</g>
<rect x="35.4" y="357.6" width="173.70" height="178.20" fill="none" stroke="#000" stroke-width="1.1"/>
<line x1="30.90" y1="535.80" x2="35.40" y2="535.80" stroke="#000" stroke-width="1.1" />
<text x="26.80" y="539.30" font-size="10" text-anchor="end" fill="#000" font-weight="normal" font-style="normal" >0</text>
<line x1="30.90" y1="510.34" x2="35.40" y2="510.34" stroke="#000" stroke-width="1.1" />
<text x="26.80" y="513.84" font-size="10" text-anchor="end" fill="#000" font-weight="normal" font-style="normal" >2</text>
<line x1="30.90" y1="484.89" x2="35.40" y2="484.89" stroke="#000" stroke-width="1.1" />
<text x="26.80" y="488.39" font-size="10" text-anchor="end" fill="#000" font-weight="normal" font-style="normal" >4</text>
<line x1="30.90" y1="459.43" x2="35.40" y2="459.43" stroke="#000" stroke-width="1.1" />
<text x="26.80" y="462.93" font-size="10" text-anchor="end" fill="#000" font-weight="normal" font-style="normal" >6</text>
<line x1="30.90" y1="433.97" x2="35.40" y2="433.97" stroke="#000" stroke-width="1.1" />
<text x="26.80" y="437.47" font-size="10" text-anchor="end" fill="#000" font-weight="normal" font-style="normal" >8</text>
<line x1="30.90" y1="408.51" x2="35.40" y2="408.51" stroke="#000" stroke-width="1.1" />
<text x="26.80" y="412.01" font-size="10" text-anchor="end" fill="#000" font-weight="normal" font-style="normal" >10</text>
<line x1="30.90" y1="383.06" x2="35.40" y2="383.06" stroke="#000" stroke-width="1.1" />
<text x="26.80" y="386.56" font-size="10" text-anchor="end" fill="#000" font-weight="normal" font-style="normal" >12</text>
<line x1="30.90" y1="357.60" x2="35.40" y2="357.60" stroke="#000" stroke-width="1.1" />
<text x="26.80" y="361.10" font-size="10" text-anchor="end" fill="#000" font-weight="normal" font-style="normal" >14</text>
<line x1="64.35" y1="535.80" x2="64.35" y2="540.30" stroke="#000" stroke-width="1.1" />
<text x="64.35" y="552.90" font-size="10" text-anchor="middle" fill="#000" font-weight="normal" font-style="normal" >350</text>
<line x1="112.60" y1="535.80" x2="112.60" y2="540.30" stroke="#000" stroke-width="1.1" />
<text x="112.60" y="552.90" font-size="10" text-anchor="middle" fill="#000" font-weight="normal" font-style="normal" >400</text>
<line x1="160.85" y1="535.80" x2="160.85" y2="540.30" stroke="#000" stroke-width="1.1" />
<text x="160.85" y="552.90" font-size="10" text-anchor="middle" fill="#000" font-weight="normal" font-style="normal" >450</text>
<line x1="209.10" y1="535.80" x2="209.10" y2="540.30" stroke="#000" stroke-width="1.1" />
<text x="209.10" y="552.90" font-size="10" text-anchor="middle" fill="#000" font-weight="normal" font-style="normal" >500</text>
<text x="7.70" y="446.40" font-size="9.8" text-anchor="middle" fill="#000" font-weight="normal" font-style="normal" transform="rotate(-90 7.7 446.4)">FFT amplitude (a.u.)</text>
<text x="121.6" y="568.8" font-size="10" text-anchor="middle">ST precession frequency, <tspan font-style="italic">f</tspan><tspan font-size="7" dy="-4">ST</tspan><tspan dy="4"> (MHz)</tspan></text>
<polygon points="67.80,408.70 69.08,412.13 72.75,412.29 69.88,414.57 70.86,418.11 67.80,416.08 64.74,418.11 65.72,414.57 62.85,412.29 66.52,412.13" fill="#000" fill-opacity="1.0"/>
<polygon points="68.00,461.73 71.90,468.51 64.10,468.51" fill="#000" fill-opacity="1.0"/>
<rect x="64.30" y="513.50" width="7.8" height="7.8" fill="#000" fill-opacity="1.0"/>
<text x="226.50" y="350.20" font-size="14" text-anchor="start" fill="#000" font-weight="bold" font-style="normal" >d</text>
<clipPath id="dclip"><rect x="266.0" y="353.7" width="97.0" height="182.59999999999997"/></clipPath>
<g clip-path="url(#dclip)">
<polyline points="266.00,528.42 266.19,528.41 266.38,528.39 266.57,528.38 266.76,528.36 266.95,528.35 267.14,528.33 267.33,528.31 267.52,528.30 267.71,528.28 267.91,528.27 268.10,528.25 268.29,528.23 268.48,528.22 268.67,528.20 268.86,528.19 269.05,528.17 269.24,528.15 269.43,528.14 269.62,528.12 269.81,528.10 270.00,528.09 270.19,528.07 270.38,528.05 270.57,528.04 270.76,528.02 270.95,528.00 271.14,527.98 271.33,527.97 271.52,527.95 271.72,527.93 271.91,527.92 272.10,527.90 272.29,527.88 272.48,527.86 272.67,527.84 272.86,527.83 273.05,527.81 273.24,527.79 273.43,527.77 273.62,527.75 273.81,527.74 274.00,527.72 274.19,527.70 274.38,527.68 274.57,527.66 274.76,527.64 274.95,527.63 275.14,527.61 275.33,527.59 275.53,527.57 275.72,527.55 275.91,527.53 276.10,527.51 276.29,527.49 276.48,527.47 276.67,527.45 276.86,527.43 277.05,527.42 277.24,527.40 277.43,527.38 277.62,527.36 277.81,527.34 278.00,527.32 278.19,527.30 278.38,527.28 278.57,527.26 278.76,527.24 278.95,527.22 279.14,527.19 279.34,527.17 279.53,527.15 279.72,527.13 279.91,527.11 280.10,527.09 280.29,527.07 280.48,527.05 280.67,527.03 280.86,527.01 281.05,526.98 281.24,526.96 281.43,526.94 281.62,526.92 281.81,526.90 282.00,526.88 282.19,526.85 282.38,526.83 282.57,526.81 282.76,526.79 282.95,526.76 283.15,526.74 283.34,526.72 283.53,526.70 283.72,526.67 283.91,526.65 284.10,526.63 284.29,526.60 284.48,526.58 284.67,526.56 284.86,526.53 285.05,526.51 285.24,526.49 285.43,526.46 285.62,526.44 285.81,526.41 286.00,526.39 286.19,526.36 286.38,526.34 286.57,526.32 286.76,526.29 286.96,526.27 287.15,526.24 287.34,526.22 287.53,526.19 287.72,526.16 287.91,526.14 288.10,526.11 288.29,526.09 288.48,526.06 288.67,526.04 288.86,526.01 289.05,525.98 289.24,525.96 289.43,525.93 289.62,525.90 289.81,525.88 290.00,525.85 290.19,525.82 290.38,525.80 290.57,525.77 290.77,525.74 290.96,525.71 291.15,525.69 291.34,525.66 291.53,525.63 291.72,525.60 291.91,525.57 292.10,525.54 292.29,525.52 292.48,525.49 292.67,525.46 292.86,525.43 293.05,525.40 293.24,525.37 293.43,525.34 293.62,525.31 293.81,525.28 294.00,525.25 294.19,525.22 294.38,525.19 294.58,525.16 294.77,525.13 294.96,525.10 295.15,525.07 295.34,525.03 295.53,525.00 295.72,524.97 295.91,524.94 296.10,524.91 296.29,524.87 296.48,524.84 296.67,524.81 296.86,524.78 297.05,524.74 297.24,524.71 297.43,524.68 297.62,524.64 297.81,524.61 298.00,524.58 298.19,524.54 298.39,524.51 298.58,524.47 298.77,524.44 298.96,524.40 299.15,524.37 299.34,524.33 299.53,524.30 299.72,524.26 299.91,524.23 300.10,524.19 300.29,524.15 300.48,524.12 300.67,524.08 300.86,524.04 301.05,524.01 301.24,523.97 301.43,523.93 301.62,523.89 301.81,523.86 302.00,523.82 302.20,523.78 302.39,523.74 302.58,523.70 302.77,523.66 302.96,523.62 303.15,523.58 303.34,523.54 303.53,523.50 303.72,523.46 303.91,523.42 304.10,523.38 304.29,523.34 304.48,523.30 304.67,523.25 304.86,523.21 305.05,523.17 305.24,523.13 305.43,523.08 305.62,523.04 305.81,523.00 306.01,522.95 306.20,522.91 306.39,522.86 306.58,522.82 306.77,522.78 306.96,522.73 307.15,522.68 307.34,522.64 307.53,522.59 307.72,522.55 307.91,522.50 308.10,522.45 308.29,522.40 308.48,522.36 308.67,522.31 308.86,522.26 309.05,522.21 309.24,522.16 309.43,522.11 309.62,522.06 309.82,522.01 310.01,521.96 310.20,521.91 310.39,521.86 310.58,521.81 310.77,521.76 310.96,521.70 311.15,521.65 311.34,521.60 311.53,521.54 311.72,521.49 311.91,521.44 312.10,521.38 312.29,521.33 312.48,521.27 312.67,521.22 312.86,521.16 313.05,521.10 313.24,521.05 313.43,520.99 313.63,520.93 313.82,520.87 314.01,520.81 314.20,520.75 314.39,520.69 314.58,520.63 314.77,520.57 314.96,520.51 315.15,520.45 315.34,520.39 315.53,520.32 315.72,520.26 315.91,520.20 316.10,520.13 316.29,520.07 316.48,520.00 316.67,519.94 316.86,519.87 317.05,519.81 317.24,519.74 317.44,519.67 317.63,519.60 317.82,519.53 318.01,519.46 318.20,519.39 318.39,519.32 318.58,519.25 318.77,519.18 318.96,519.11 319.15,519.03 319.34,518.96 319.53,518.89 319.72,518.81 319.91,518.74 320.10,518.66 320.29,518.58 320.48,518.50 320.67,518.43 320.86,518.35 321.05,518.27 321.25,518.19 321.44,518.11 321.63,518.02 321.82,517.94 322.01,517.86 322.20,517.77 322.39,517.69 322.58,517.60 322.77,517.52 322.96,517.43 323.15,517.34 323.34,517.25 323.53,517.16 323.72,517.07 323.91,516.98 324.10,516.89 324.29,516.80 324.48,516.70 324.67,516.61 324.86,516.51 325.06,516.42 325.25,516.32 325.44,516.22 325.63,516.12 325.82,516.02 326.01,515.92 326.20,515.81 326.39,515.71 326.58,515.61 326.77,515.50 326.96,515.39 327.15,515.28 327.34,515.18 327.53,515.07 327.72,514.95 327.91,514.84 328.10,514.73 328.29,514.61 328.48,514.50 328.67,514.38 328.87,514.26 329.06,514.14 329.25,514.02 329.44,513.90 329.63,513.77 329.82,513.65 330.01,513.52 330.20,513.39 330.39,513.26 330.58,513.13 330.77,513.00 330.96,512.86 331.15,512.73 331.34,512.59 331.53,512.45 331.72,512.31 331.91,512.17 332.10,512.03 332.29,511.88 332.48,511.73 332.68,511.58 332.87,511.43 333.06,511.28 333.25,511.13 333.44,510.97 333.63,510.81 333.82,510.65 334.01,510.49 334.20,510.32 334.39,510.16 334.58,509.99 334.77,509.82 334.96,509.64 335.15,509.47 335.34,509.29 335.53,509.11 335.72,508.93 335.91,508.74 336.10,508.56 336.29,508.37 336.49,508.17 336.68,507.98 336.87,507.78 337.06,507.58 337.25,507.37 337.44,507.17 337.63,506.96 337.82,506.74 338.01,506.53 338.20,506.31 338.39,506.09 338.58,505.86 338.77,505.63 338.96,505.40 339.15,505.17 339.34,504.93 339.53,504.68 339.72,504.44 339.91,504.18 340.10,503.93 340.30,503.67 340.49,503.41 340.68,503.14 340.87,502.87 341.06,502.59 341.25,502.31 341.44,502.03 341.63,501.74 341.82,501.44 342.01,501.14 342.20,500.83 342.39,500.52 342.58,500.21 342.77,499.88 342.96,499.56 343.15,499.22 343.34,498.88 343.53,498.54 343.72,498.18 343.91,497.83 344.11,497.46 344.30,497.09 344.49,496.71 344.68,496.32 344.87,495.92 345.06,495.52 345.25,495.11 345.44,494.69 345.63,494.26 345.82,493.82 346.01,493.38 346.20,492.92 346.39,492.45 346.58,491.98 346.77,491.49 346.96,491.00 347.15,490.49 347.34,489.97 347.53,489.44 347.72,488.89 347.92,488.34 348.11,487.77 348.30,487.18 348.49,486.58 348.68,485.97 348.87,485.34 349.06,484.70 349.25,484.04 349.44,483.36 349.63,482.67 349.82,481.96 350.01,481.22 350.20,480.47 350.39,479.70 350.58,478.90 350.77,478.09 350.96,477.25 351.15,476.38 351.34,475.49 351.53,474.57 351.73,473.62 351.92,472.65 352.11,471.64 352.30,470.60 352.49,469.53 352.68,468.42 352.87,467.28 353.06,466.09 353.25,464.86 353.44,463.59 353.63,462.28 353.82,460.91 354.01,459.50 354.20,458.03 354.39,456.50 354.58,454.91 354.77,453.26 354.96,451.54 355.15,449.75 355.34,447.88 355.54,445.93 355.73,443.88 355.92,441.75 356.11,439.51 356.30,437.17 356.49,434.71 356.68,432.12 356.87,429.40 357.06,426.53 357.25,423.51 357.44,420.31 357.63,416.93 357.82,413.34 358.01,409.53 358.20,405.48 358.39,401.17 358.58,396.55 358.77,391.61 358.96,386.31 359.15,380.61 359.35,374.46 359.54,367.80 359.73,360.56 359.92,352.68 360.11,344.07 360.30,334.60 360.49,324.15 360.68,312.56 360.87,299.63 361.06,285.12" fill="none" stroke="#000" stroke-width="2.3" stroke-linejoin="miter" />
</g>
<polygon points="295.00,521.80 296.73,526.42 301.66,526.64 297.80,529.71 299.11,534.46 295.00,531.74 290.89,534.46 292.20,529.71 288.34,526.64 293.27,526.42" fill="#9933cc" fill-opacity="0.75"/>
<polygon points="324.50,510.72 329.75,519.85 319.25,519.85" fill="#d9628f" fill-opacity="0.7"/>
<rect x="349.30" y="455.20" width="8.8" height="8.8" fill="#f5a055" fill-opacity="0.75"/>
<rect x="266.0" y="353.7" width="97.00" height="182.60" fill="none" stroke="#000" stroke-width="1.1"/>
<line x1="261.50" y1="536.30" x2="266.00" y2="536.30" stroke="#000" stroke-width="1.1" />
<text x="257.40" y="539.80" font-size="10" text-anchor="end" fill="#000" font-weight="normal" font-style="normal" >0</text>
<line x1="261.50" y1="511.95" x2="266.00" y2="511.95" stroke="#000" stroke-width="1.1" />
<text x="257.40" y="515.45" font-size="10" text-anchor="end" fill="#000" font-weight="normal" font-style="normal" >20</text>
<line x1="261.50" y1="487.61" x2="266.00" y2="487.61" stroke="#000" stroke-width="1.1" />
<text x="257.40" y="491.11" font-size="10" text-anchor="end" fill="#000" font-weight="normal" font-style="normal" >40</text>
<line x1="261.50" y1="463.26" x2="266.00" y2="463.26" stroke="#000" stroke-width="1.1" />
<text x="257.40" y="466.76" font-size="10" text-anchor="end" fill="#000" font-weight="normal" font-style="normal" >60</text>
<line x1="261.50" y1="438.91" x2="266.00" y2="438.91" stroke="#000" stroke-width="1.1" />
<text x="257.40" y="442.41" font-size="10" text-anchor="end" fill="#000" font-weight="normal" font-style="normal" >80</text>
<line x1="261.50" y1="414.57" x2="266.00" y2="414.57" stroke="#000" stroke-width="1.1" />
<text x="257.40" y="418.07" font-size="10" text-anchor="end" fill="#000" font-weight="normal" font-style="normal" >100</text>
<line x1="261.50" y1="390.22" x2="266.00" y2="390.22" stroke="#000" stroke-width="1.1" />
<text x="257.40" y="393.72" font-size="10" text-anchor="end" fill="#000" font-weight="normal" font-style="normal" >120</text>
<line x1="261.50" y1="365.87" x2="266.00" y2="365.87" stroke="#000" stroke-width="1.1" />
<text x="257.40" y="369.37" font-size="10" text-anchor="end" fill="#000" font-weight="normal" font-style="normal" >140</text>
<line x1="285.40" y1="536.30" x2="285.40" y2="540.80" stroke="#000" stroke-width="1.1" />
<text x="285.40" y="553.40" font-size="10" text-anchor="middle" fill="#000" font-weight="normal" font-style="normal" >30</text>
<line x1="324.20" y1="536.30" x2="324.20" y2="540.80" stroke="#000" stroke-width="1.1" />
<text x="324.20" y="553.40" font-size="10" text-anchor="middle" fill="#000" font-weight="normal" font-style="normal" >40</text>
<line x1="363.00" y1="536.30" x2="363.00" y2="540.80" stroke="#000" stroke-width="1.1" />
<text x="363.00" y="553.40" font-size="10" text-anchor="middle" fill="#000" font-weight="normal" font-style="normal" >50</text>
<text x="233.2" y="446.3" font-size="10.1" text-anchor="middle" transform="rotate(-90 233.2 446.3)">Two-qubit coupling strength, <tspan font-style="italic">J</tspan><tspan font-size="7" dy="-4">QQ</tspan><tspan dy="4">/</tspan><tspan font-style="italic">h</tspan> (MHz)</text>
<text x="311.3" y="567" font-size="10.2" text-anchor="middle"><tspan font-style="italic">V</tspan><tspan font-size="6.3" dy="1.8">PL</tspan><tspan dy="-1.8"> (mV)</tspan></text>
<text x="374.20" y="349.70" font-size="14" text-anchor="start" fill="#000" font-weight="bold" font-style="normal" >e</text>
<clipPath id="clipe"><rect x="420.6" y="353.6" width="259.0" height="73.79999999999995"/></clipPath>
<g clip-path="url(#clipe)">
<polyline points="424.92,369.75 425.13,371.22 425.34,372.92 425.55,374.82 425.77,376.90 425.98,379.13 426.19,381.49 426.40,383.95 426.62,386.47 426.83,389.03 427.04,391.59 427.25,394.12 427.47,396.59 427.68,398.97 427.89,401.23 428.10,403.34 428.32,405.28 428.53,407.01 428.74,408.53 428.95,409.81 429.16,410.83 429.38,411.59 429.59,412.07 429.80,412.27 430.01,412.18 430.23,411.81 430.44,411.16 430.65,410.24 430.86,409.07 431.08,407.65 431.29,406.00 431.50,404.15 431.71,402.11 431.93,399.92 432.14,397.60 432.35,395.18 432.56,392.68 432.78,390.15 432.99,387.61 433.20,385.10 433.41,382.64 433.63,380.26 433.84,378.00 434.05,375.89 434.26,373.94 434.48,372.18 434.69,370.65 434.90,369.34 435.11,368.29 435.32,367.50 435.54,366.98 435.75,366.74 435.96,366.78 436.17,367.10 436.39,367.70 436.60,368.57 436.81,369.70 437.02,371.07 437.24,372.67 437.45,374.48 437.66,376.47 437.87,378.62 438.09,380.90 438.30,383.29 438.51,385.75 438.72,388.26 438.94,390.78 439.15,393.27 439.36,395.72 439.57,398.09 439.79,400.35 440.00,402.47 440.21,404.43 440.42,406.20 440.64,407.76 440.85,409.09 441.06,410.17 441.27,411.00 441.48,411.56 441.70,411.84 441.91,411.84 442.12,411.56 442.33,411.01 442.55,410.18 442.76,409.10 442.97,407.78 443.18,406.23 443.40,404.47 443.61,402.52 443.82,400.41 444.03,398.17 444.25,395.82 444.46,393.39 444.67,390.91 444.88,388.41 445.10,385.93 445.31,383.49 445.52,381.13 445.73,378.87 445.95,376.75 446.16,374.78 446.37,373.00 446.58,371.42 446.80,370.06 447.01,368.95 447.22,368.09 447.43,367.50 447.64,367.18 447.86,367.14 448.07,367.37 448.28,367.88 448.49,368.65 448.71,369.68 448.92,370.96 449.13,372.46 449.34,374.18 449.56,376.08 449.77,378.14 449.98,380.35 450.19,382.67 450.41,385.07 450.62,387.52 450.83,389.99 451.04,392.45 451.26,394.88 451.47,397.23 451.68,399.49 451.89,401.62 452.11,403.59 452.32,405.39 452.53,406.99 452.74,408.37 452.96,409.51 453.17,410.40 453.38,411.03 453.59,411.38 453.80,411.47 454.02,411.28 454.23,410.82 454.44,410.09 454.65,409.11 454.87,407.88 455.08,406.42 455.29,404.76 455.50,402.90 455.72,400.87 455.93,398.71 456.14,396.43 456.35,394.06 456.57,391.64 456.78,389.19 456.99,386.74 457.20,384.33 457.42,381.98 457.63,379.73 457.84,377.60 458.05,375.62 458.27,373.81 458.48,372.19 458.69,370.79 458.90,369.62 459.12,368.70 459.33,368.04 459.54,367.64 459.75,367.51 459.96,367.66 460.18,368.07 460.39,368.75 460.60,369.69 460.81,370.87 461.03,372.28 461.24,373.90 461.45,375.72 461.66,377.70 461.88,379.83 462.09,382.07 462.30,384.41 462.51,386.80 462.73,389.23 462.94,391.66 463.15,394.05 463.36,396.39 463.58,398.64 463.79,400.77 464.00,402.76 464.21,404.58 464.43,406.22 464.64,407.64 464.85,408.83 465.06,409.78 465.28,410.48 465.49,410.92 465.70,411.08 465.91,410.98 466.12,410.61 466.34,409.98 466.55,409.09 466.76,407.95 466.97,406.59 467.19,405.01 467.40,403.24 467.61,401.30 467.82,399.21 468.04,397.00 468.25,394.70 468.46,392.33 468.67,389.93 468.89,387.53 469.10,385.14 469.31,382.82 469.52,380.57 469.74,378.44 469.95,376.44 470.16,374.61 470.37,372.96 470.59,371.52 470.80,370.30 471.01,369.32 471.22,368.59 471.43,368.11 471.65,367.91 471.86,367.97 472.07,368.29 472.28,368.88 472.50,369.73 472.71,370.81 472.92,372.13 473.13,373.66 473.35,375.39 473.56,377.29 473.77,379.34 473.98,381.51 474.20,383.78 474.41,386.12 474.62,388.50 474.83,390.88 475.05,393.25 475.26,395.57 475.47,397.81 475.68,399.94 475.90,401.94 476.11,403.78 476.32,405.45 476.53,406.91 476.75,408.15 476.96,409.16 477.17,409.93 477.38,410.43 477.59,410.68 477.81,410.66 478.02,410.38 478.23,409.83 478.44,409.04 478.66,407.99 478.87,406.72 479.08,405.24 479.29,403.55 479.51,401.69 479.72,399.68 479.93,397.55 480.14,395.31 480.36,393.00 480.57,390.65 480.78,388.29 480.99,385.94 481.21,383.63 481.42,381.40 481.63,379.26 481.84,377.26 482.06,375.41 482.27,373.73 482.48,372.25 482.69,370.98 482.91,369.94 483.12,369.15 483.33,368.60 483.54,368.32 483.75,368.30 483.97,368.54 484.18,369.04 484.39,369.79 484.60,370.79 484.82,372.01 485.03,373.46 485.24,375.10 485.45,376.91 485.67,378.88 485.88,380.98 486.09,383.18 486.30,385.46 486.52,387.79 486.73,390.13 486.94,392.47 487.15,394.76 487.37,396.99 487.58,399.12 487.79,401.13 488.00,402.99 488.22,404.68 488.43,406.18 488.64,407.47 488.85,408.53 489.07,409.36 489.28,409.94 489.49,410.26 489.70,410.32 489.91,410.12 490.13,409.67 490.34,408.96 490.55,408.01 490.76,406.83 490.98,405.43 491.19,403.83 491.40,402.06 491.61,400.13 491.83,398.06 492.04,395.89 492.25,393.65 492.46,391.34 492.68,389.02 492.89,386.70 493.10,384.42 493.31,382.20 493.53,380.08 493.74,378.06 493.95,376.20 494.16,374.49 494.38,372.98 494.59,371.66 494.80,370.57 495.01,369.72 495.23,369.11 495.44,368.75 495.65,368.65 495.86,368.81 496.07,369.22 496.29,369.88 496.50,370.79 496.71,371.93 496.92,373.28 497.14,374.83 497.35,376.56 497.56,378.46 497.77,380.48 497.99,382.62 498.20,384.84 498.41,387.11 498.62,389.41 498.84,391.71 499.05,393.98 499.26,396.19 499.47,398.32 499.69,400.33 499.90,402.20 500.11,403.92 500.32,405.45 500.54,406.78 500.75,407.90 500.96,408.78 501.17,409.43 501.39,409.82 501.60,409.96 501.81,409.84 502.02,409.47 502.23,408.85 502.45,407.99 502.66,406.90 502.87,405.59 503.08,404.08 503.30,402.39 503.51,400.54 503.72,398.55 503.93,396.45 504.15,394.26 504.36,392.01 504.57,389.73 504.78,387.45 505.00,385.20 505.21,382.99 505.42,380.87 505.63,378.86 505.85,376.98 506.06,375.25 506.27,373.70 506.48,372.35 506.70,371.21 506.91,370.30 507.12,369.62 507.33,369.19 507.55,369.02 507.76,369.09 507.97,369.42 508.18,370.00 508.39,370.82 508.61,371.87 508.82,373.13 509.03,374.60 509.24,376.25 509.46,378.06 509.67,380.01 509.88,382.08 510.09,384.24 510.31,386.46 510.52,388.71 510.73,390.98 510.94,393.22 511.16,395.41 511.37,397.53 511.58,399.54 511.79,401.43 512.01,403.16 512.22,404.72 512.43,406.10 512.64,407.26 512.86,408.20 513.07,408.91 513.28,409.37 513.49,409.58 513.71,409.55 513.92,409.26 514.13,408.72 514.34,407.95 514.55,406.95 514.77,405.72 514.98,404.30 515.19,402.69 515.40,400.92 515.62,399.00 515.83,396.97 516.04,394.84 516.25,392.65 516.47,390.42 516.68,388.17 516.89,385.95 517.10,383.77 517.32,381.66 517.53,379.64 517.74,377.75 517.95,376.01 518.17,374.43 518.38,373.04 518.59,371.85 518.80,370.89 519.02,370.15 519.23,369.65 519.44,369.40 519.65,369.40 519.87,369.65 520.08,370.14 520.29,370.87 520.50,371.83 520.71,373.01 520.93,374.39 521.14,375.96 521.35,377.70 521.56,379.57 521.78,381.57 521.99,383.67 522.20,385.83 522.41,388.04 522.63,390.26 522.84,392.47 523.05,394.65 523.26,396.75 523.48,398.76 523.69,400.66 523.90,402.41 524.11,404.00 524.33,405.41 524.54,406.62 524.75,407.61 524.96,408.37 525.18,408.90 525.39,409.19 525.60,409.23 525.81,409.02 526.03,408.57 526.24,407.88 526.45,406.96 526.66,405.83 526.87,404.49 527.09,402.96 527.30,401.27 527.51,399.43 527.72,397.46 527.94,395.40 528.15,393.26 528.36,391.08 528.57,388.88 528.79,386.68 529.00,384.52 529.21,382.42 529.42,380.41 529.64,378.51 529.85,376.75 530.06,375.15 530.27,373.73 530.49,372.50 530.70,371.48 530.91,370.69 531.12,370.13 531.34,369.81 531.55,369.73 531.76,369.90 531.97,370.30 532.19,370.95 532.40,371.83 532.61,372.92 532.82,374.22 533.03,375.70 533.25,377.36 533.46,379.16 533.67,381.09 533.88,383.13 534.10,385.23 534.31,387.39 534.52,389.57 534.73,391.75 534.95,393.90 535.16,395.99 535.37,398.00 535.58,399.90 535.80,401.67 536.01,403.28 536.22,404.72 536.43,405.97 536.65,407.01 536.86,407.83 537.07,408.42 537.28,408.78 537.50,408.89 537.71,408.77 537.92,408.40 538.13,407.79 538.35,406.96 538.56,405.91 538.77,404.65 538.98,403.20 539.19,401.59 539.41,399.82 539.62,397.93 539.83,395.93 540.04,393.85 540.26,391.71 540.47,389.55 540.68,387.39 540.89,385.25 541.11,383.17 541.32,381.17 541.53,379.27 541.74,377.49 541.96,375.87 542.17,374.41 542.38,373.15 542.59,372.08 542.81,371.23 543.02,370.61 543.23,370.22 543.44,370.07 543.66,370.16 543.87,370.49 544.08,371.06 544.29,371.85 544.51,372.86 544.72,374.07 544.93,375.48 545.14,377.05 545.35,378.78 545.57,380.64 545.78,382.61 545.99,384.66 546.20,386.77 546.42,388.91 546.63,391.05 546.84,393.18 547.05,395.25 547.27,397.25 547.48,399.15 547.69,400.93 547.90,402.56 548.12,404.03 548.33,405.32 548.54,406.41 548.75,407.28 548.97,407.93 549.18,408.36 549.39,408.54 549.60,408.49 549.82,408.20 550.03,407.67 550.24,406.92 550.45,405.96 550.67,404.78 550.88,403.42 551.09,401.88 551.30,400.19 551.51,398.36 551.73,396.43 551.94,394.41 552.15,392.32 552.36,390.20 552.58,388.08 552.79,385.97 553.00,383.90 553.21,381.91 553.43,380.01 553.64,378.23 553.85,376.58 554.06,375.10 554.28,373.80 554.49,372.69 554.70,371.79 554.91,371.11 555.13,370.65 555.34,370.43 555.55,370.45 555.76,370.70 555.98,371.18 556.19,371.89 556.40,372.82 556.61,373.95 556.83,375.28 557.04,376.78 557.25,378.43 557.46,380.22 557.67,382.12 557.89,384.12 558.10,386.17 558.31,388.27 558.52,390.38 558.74,392.47 558.95,394.53 559.16,396.52 559.37,398.42 559.59,400.20 559.80,401.85 560.01,403.35 560.22,404.67 560.44,405.80 560.65,406.73 560.86,407.43 561.07,407.92 561.29,408.17 561.50,408.19 561.71,407.98 561.92,407.54 562.14,406.87 562.35,405.98 562.56,404.89 562.77,403.60 562.99,402.14 563.20,400.52 563.41,398.77 563.62,396.90 563.83,394.94 564.05,392.91 564.26,390.83 564.47,388.74 564.68,386.67 564.90,384.62 565.11,382.64 565.32,380.74 565.53,378.95 565.75,377.29 565.96,375.78 566.17,374.45 566.38,373.30 566.60,372.35 566.81,371.61 567.02,371.10 567.23,370.81 567.45,370.75 567.66,370.93 567.87,371.33 568.08,371.96 568.30,372.81 568.51,373.86 568.72,375.11 568.93,376.53 569.15,378.11 569.36,379.83 569.57,381.67 569.78,383.60 569.99,385.60 570.21,387.65 570.42,389.72 570.63,391.79 570.84,393.82 571.06,395.80 571.27,397.69 571.48,399.48 571.69,401.15 571.91,402.67 572.12,404.02 572.33,405.19 572.54,406.16 572.76,406.93 572.97,407.47 573.18,407.79 573.39,407.88 573.61,407.74 573.82,407.37 574.03,406.78 574.24,405.98 574.46,404.97 574.67,403.76 574.88,402.38 575.09,400.83 575.31,399.15 575.52,397.34 575.73,395.44 575.94,393.47 576.15,391.44 576.37,389.39 576.58,387.34 576.79,385.32 577.00,383.35 577.22,381.46 577.43,379.66 577.64,377.99 577.85,376.46 578.07,375.10 578.28,373.91 578.49,372.91 578.70,372.12 578.92,371.55 579.13,371.20 579.34,371.07 579.55,371.18 579.77,371.51 579.98,372.06 580.19,372.82 580.40,373.80 580.62,374.96 580.83,376.31 581.04,377.81 581.25,379.46 581.47,381.23 581.68,383.11 581.89,385.06 582.10,387.06 582.31,389.09 582.53,391.12 582.74,393.13 582.95,395.09 583.16,396.98 583.38,398.78 583.59,400.45 583.80,401.99 584.01,403.37 584.23,404.58 584.44,405.59 584.65,406.41 584.86,407.01 585.08,407.39 585.29,407.55 585.50,407.48 585.71,407.19 585.93,406.68 586.14,405.95 586.35,405.02 586.56,403.89 586.78,402.59 586.99,401.12 587.20,399.50 587.41,397.76 587.63,395.92 587.84,394.00 588.05,392.02 588.26,390.01 588.47,388.00 588.69,386.00 588.90,384.04 589.11,382.16 589.32,380.36 589.54,378.68 589.75,377.14 589.96,375.74 590.17,374.52 590.39,373.48 590.60,372.64 590.81,372.01 591.02,371.60 591.24,371.41 591.45,371.44 591.66,371.70 591.87,372.17 592.09,372.86 592.30,373.76 592.51,374.84 592.72,376.11 592.94,377.54 593.15,379.12 593.36,380.83 593.57,382.64 593.79,384.54 594.00,386.49 594.21,388.48 594.42,390.48 594.63,392.46 594.85,394.40 595.06,396.29 595.27,398.08 595.48,399.76 595.70,401.32 595.91,402.73 596.12,403.96 596.33,405.02 596.55,405.88 596.76,406.54 596.97,406.98 597.18,407.21 597.40,407.21 597.61,406.99 597.82,406.55 598.03,405.90 598.25,405.05 598.46,404.00 598.67,402.77 598.88,401.37 599.10,399.83 599.31,398.15 599.52,396.37 599.73,394.51 599.95,392.58 600.16,390.61 600.37,388.63 600.58,386.66 600.79,384.72 601.01,382.85 601.22,381.06 601.43,379.37 601.64,377.81 601.86,376.39 602.07,375.13 602.28,374.06 602.49,373.17 602.71,372.49 602.92,372.02 603.13,371.76 603.34,371.72 603.56,371.91 603.77,372.31 603.98,372.92 604.19,373.74 604.41,374.75 604.62,375.94 604.83,377.30 605.04,378.81 605.26,380.45 605.47,382.20 605.68,384.04 605.89,385.94 606.11,387.89 606.32,389.85 606.53,391.81 606.74,393.73 606.95,395.60 607.17,397.39 607.38,399.08 607.59,400.65 607.80,402.08 608.02,403.35 608.23,404.45 608.44,405.35 608.65,406.06 608.87,406.56 609.08,406.85 609.29,406.92 609.50,406.77 609.72,406.41 609.93,405.83 610.14,405.05 610.35,404.08 610.57,402.92 610.78,401.60 610.99,400.12 611.20,398.52 611.42,396.80 611.63,394.99 611.84,393.11 612.05,391.19 612.26,389.24 612.48,387.30 612.69,385.39 612.90,383.52 613.11,381.74 613.33,380.04 613.54,378.47 613.75,377.03 613.96,375.75 614.18,374.63 614.39,373.70 614.60,372.97 614.81,372.44 615.03,372.13 615.24,372.02 615.45,372.14 615.66,372.47 615.88,373.00 616.09,373.75 616.30,374.68 616.51,375.80 616.73,377.09 616.94,378.53 617.15,380.10 617.36,381.79 617.58,383.57 617.79,385.42 618.00,387.32 618.21,389.25 618.42,391.18 618.64,393.08 618.85,394.93 619.06,396.72 619.27,398.41 619.49,399.99 619.70,401.44 619.91,402.74 620.12,403.87 620.34,404.82 620.55,405.58 620.76,406.13 620.97,406.48 621.19,406.61 621.40,406.53 621.61,406.24 621.82,405.74 622.04,405.03 622.25,404.13 622.46,403.05 622.67,401.80 622.89,400.40 623.10,398.86 623.31,397.20 623.52,395.45 623.74,393.62 623.95,391.74 624.16,389.84 624.37,387.92 624.58,386.03 624.80,384.19 625.01,382.40 625.22,380.71 625.43,379.12 625.65,377.67 625.86,376.36 626.07,375.21 626.28,374.24 626.50,373.46 626.71,372.88 626.92,372.50 627.13,372.34 627.35,372.38 627.56,372.64 627.77,373.11 627.98,373.78 628.20,374.64 628.41,375.68 628.62,376.90 628.83,378.27 629.05,379.77 629.26,381.40 629.47,383.12 629.68,384.93 629.90,386.78 630.11,388.67 630.32,390.56 630.53,392.44 630.74,394.28 630.96,396.06 631.17,397.75 631.38,399.34 631.59,400.81 631.81,402.13 632.02,403.29 632.23,404.28 632.44,405.08 632.66,405.69 632.87,406.09 633.08,406.29 633.29,406.28 633.51,406.05 633.72,405.62 633.93,404.99 634.14,404.17 634.36,403.16 634.57,401.98 634.78,400.64 634.99,399.17 635.21,397.58 635.42,395.88 635.63,394.11 635.84,392.27 636.06,390.41 636.27,388.53 636.48,386.66 636.69,384.83 636.90,383.06 637.12,381.36 637.33,379.77 637.54,378.30 637.75,376.97 637.97,375.79 638.18,374.78 638.39,373.96 638.60,373.33 638.82,372.89 639.03,372.67 639.24,372.65 639.45,372.84 639.67,373.23 639.88,373.83 640.09,374.62 640.30,375.59 640.52,376.73 640.73,378.03 640.94,379.47 641.15,381.04 641.37,382.70 641.58,384.45 641.79,386.26 642.00,388.11 642.22,389.97 642.43,391.82 642.64,393.64 642.85,395.41 643.06,397.10 643.28,398.70 643.49,400.18 643.70,401.52 643.91,402.71 644.13,403.74 644.34,404.58 644.55,405.24 644.76,405.70 644.98,405.96 645.19,406.01 645.40,405.85 645.61,405.49 645.83,404.93 646.04,404.18 646.25,403.24 646.46,402.13 646.68,400.87 646.89,399.46 647.10,397.93 647.31,396.29 647.53,394.57 647.74,392.78 647.95,390.96 648.16,389.11 648.38,387.27 648.59,385.46 648.80,383.70 649.01,382.01 649.22,380.41 649.44,378.93 649.65,377.57 649.86,376.37 650.07,375.33 650.29,374.46 650.50,373.78 650.71,373.29 650.92,373.01 651.14,372.93 651.35,373.05 651.56,373.38 651.77,373.90 651.99,374.62 652.20,375.52 652.41,376.59 652.62,377.82 652.84,379.20 653.05,380.70 653.26,382.31 653.47,384.00 653.69,385.76 653.90,387.57 654.11,389.39 654.32,391.22 654.54,393.02 654.75,394.78 654.96,396.46 655.17,398.06 655.38,399.55 655.60,400.91 655.81,402.13 656.02,403.19 656.23,404.08 656.45,404.78 656.66,405.29 656.87,405.61 657.08,405.72 657.30,405.63 657.51,405.34 657.72,404.85 657.93,404.16 658.15,403.30 658.36,402.26 658.57,401.06 658.78,399.72 659.00,398.25 659.21,396.67 659.42,395.01 659.63,393.27 659.85,391.48 660.06,389.68 660.27,387.87 660.48,386.07 660.70,384.33 660.91,382.64 661.12,381.04 661.33,379.55 661.54,378.18 661.76,376.95 661.97,375.87 662.18,374.97 662.39,374.24 662.61,373.70 662.82,373.36 663.03,373.22 663.24,373.28 663.46,373.54 663.67,373.99 663.88,374.64 664.09,375.47 664.31,376.48 664.52,377.64 664.73,378.95 664.94,380.39 665.16,381.94 665.37,383.58 665.58,385.29 665.79,387.05 666.01,388.84 666.22,390.64 666.43,392.42 666.64,394.16 666.86,395.84 667.07,397.44 667.28,398.93 667.49,400.31 667.70,401.56 667.92,402.65 668.13,403.57 668.34,404.32 668.55,404.88 668.77,405.25 668.98,405.42 669.19,405.39 669.40,405.17 669.62,404.74 669.83,404.13 670.04,403.33 670.25,402.36 670.47,401.24 670.68,399.96 670.89,398.55 671.10,397.03 671.32,395.42 671.53,393.73 671.74,391.99 671.95,390.22 672.17,388.44 672.38,386.67 672.59,384.94 672.80,383.26 673.02,381.66 673.23,380.16 673.44,378.78 673.65,377.52 673.86,376.42 674.08,375.48 674.29,374.71 674.50,374.12 674.71,373.73 674.93,373.53 675.14,373.52 675.35,373.72 675.56,374.11 675.78,374.69 675.99,375.45 676.20,376.38 676.41,377.48 676.63,378.72 676.84,380.10 677.05,381.59 677.26,383.17 677.48,384.84 677.69,386.55 677.90,388.31 678.11,390.07 678.33,391.83 678.54,393.55 678.75,395.22 678.96,396.82 679.18,398.32 679.39,399.72 679.60,400.98" fill="none" stroke="#8080ff" stroke-width="2.4" stroke-linejoin="miter" stroke-linejoin="round"/>
<circle cx="424.92" cy="374.10" r="3.3" fill="#0000ff"/>
<circle cx="429.23" cy="395.10" r="3.3" fill="#0000ff"/>
<circle cx="433.55" cy="388.80" r="3.3" fill="#0000ff"/>
<circle cx="437.87" cy="387.90" r="3.3" fill="#0000ff"/>
<circle cx="442.18" cy="400.00" r="3.3" fill="#0000ff"/>
<circle cx="446.50" cy="382.20" r="3.3" fill="#0000ff"/>
<circle cx="450.82" cy="392.80" r="3.3" fill="#0000ff"/>
<circle cx="455.13" cy="403.30" r="3.3" fill="#0000ff"/>
<circle cx="459.45" cy="366.80" r="3.3" fill="#0000ff"/>
<circle cx="463.77" cy="393.70" r="3.3" fill="#0000ff"/>
<circle cx="468.08" cy="388.80" r="3.3" fill="#0000ff"/>
<circle cx="472.40" cy="372.40" r="3.3" fill="#0000ff"/>
<circle cx="476.72" cy="408.20" r="3.3" fill="#0000ff"/>
<circle cx="481.03" cy="384.80" r="3.3" fill="#0000ff"/>
<circle cx="485.35" cy="383.90" r="3.3" fill="#0000ff"/>
<circle cx="489.67" cy="404.00" r="3.3" fill="#0000ff"/>
<circle cx="493.98" cy="381.10" r="3.3" fill="#0000ff"/>
<circle cx="498.30" cy="390.40" r="3.3" fill="#0000ff"/>
<circle cx="502.62" cy="398.40" r="3.3" fill="#0000ff"/>
<circle cx="506.93" cy="376.40" r="3.3" fill="#0000ff"/>
<circle cx="511.25" cy="387.20" r="3.3" fill="#0000ff"/>
<circle cx="515.57" cy="403.30" r="3.3" fill="#0000ff"/>
<circle cx="519.88" cy="371.00" r="3.3" fill="#0000ff"/>
<circle cx="524.20" cy="400.80" r="3.3" fill="#0000ff"/>
<circle cx="528.52" cy="387.20" r="3.3" fill="#0000ff"/>
<circle cx="532.83" cy="380.60" r="3.3" fill="#0000ff"/>
<circle cx="537.15" cy="400.80" r="3.3" fill="#0000ff"/>
<circle cx="541.47" cy="375.00" r="3.3" fill="#0000ff"/>
<circle cx="545.78" cy="389.50" r="3.3" fill="#0000ff"/>
<circle cx="550.10" cy="395.10" r="3.3" fill="#0000ff"/>
<circle cx="554.42" cy="370.70" r="3.3" fill="#0000ff"/>
<circle cx="558.73" cy="383.00" r="3.3" fill="#0000ff"/>
<circle cx="563.05" cy="397.00" r="3.3" fill="#0000ff"/>
<circle cx="567.37" cy="378.30" r="3.3" fill="#0000ff"/>
<circle cx="571.68" cy="400.00" r="3.3" fill="#0000ff"/>
<circle cx="576.00" cy="391.10" r="3.3" fill="#0000ff"/>
<circle cx="580.32" cy="374.10" r="3.3" fill="#0000ff"/>
<circle cx="584.63" cy="412.10" r="3.3" fill="#0000ff"/>
<circle cx="588.95" cy="368.20" r="3.3" fill="#0000ff"/>
<circle cx="593.27" cy="390.90" r="3.3" fill="#0000ff"/>
<circle cx="597.58" cy="400.00" r="3.3" fill="#0000ff"/>
<circle cx="601.90" cy="376.60" r="3.3" fill="#0000ff"/>
<circle cx="606.22" cy="401.20" r="3.3" fill="#0000ff"/>
<circle cx="610.53" cy="395.80" r="3.3" fill="#0000ff"/>
<circle cx="614.85" cy="376.40" r="3.3" fill="#0000ff"/>
<circle cx="619.17" cy="391.80" r="3.3" fill="#0000ff"/>
<circle cx="623.48" cy="397.70" r="3.3" fill="#0000ff"/>
<circle cx="627.80" cy="378.00" r="3.3" fill="#0000ff"/>
<circle cx="632.12" cy="400.80" r="3.3" fill="#0000ff"/>
<circle cx="636.43" cy="381.50" r="3.3" fill="#0000ff"/>
<circle cx="640.75" cy="378.70" r="3.3" fill="#0000ff"/>
<circle cx="645.07" cy="404.00" r="3.3" fill="#0000ff"/>
<circle cx="649.38" cy="376.40" r="3.3" fill="#0000ff"/>
<circle cx="653.70" cy="399.10" r="3.3" fill="#0000ff"/>
<circle cx="658.02" cy="394.60" r="3.3" fill="#0000ff"/>
<circle cx="662.33" cy="383.60" r="3.3" fill="#0000ff"/>
<circle cx="666.65" cy="405.70" r="3.3" fill="#0000ff"/>
<circle cx="670.97" cy="393.70" r="3.3" fill="#0000ff"/>
<circle cx="675.28" cy="375.50" r="3.3" fill="#0000ff"/>
<circle cx="679.60" cy="399.10" r="3.3" fill="#0000ff"/>
</g>
<rect x="420.6" y="353.6" width="259.00" height="73.80" fill="none" stroke="#000" stroke-width="1.1"/>
<line x1="416.10" y1="364.09" x2="420.60" y2="364.09" stroke="#000" stroke-width="1.1" />
<text x="412.30" y="367.69" font-size="10.2" text-anchor="end" fill="#000" font-weight="normal" font-style="normal" >0.75</text>
<line x1="416.10" y1="390.45" x2="420.60" y2="390.45" stroke="#000" stroke-width="1.1" />
<text x="412.30" y="394.05" font-size="10.2" text-anchor="end" fill="#000" font-weight="normal" font-style="normal" >0.50</text>
<line x1="416.10" y1="416.81" x2="420.60" y2="416.81" stroke="#000" stroke-width="1.1" />
<text x="412.30" y="420.41" font-size="10.2" text-anchor="end" fill="#000" font-weight="normal" font-style="normal" >0.25</text>
<line x1="420.60" y1="427.40" x2="420.60" y2="431.90" stroke="#000" stroke-width="1.1" />
<text x="420.60" y="444.10" font-size="10" text-anchor="middle" fill="#000" font-weight="normal" font-style="normal" >0</text>
<line x1="472.40" y1="427.40" x2="472.40" y2="431.90" stroke="#000" stroke-width="1.1" />
<text x="472.40" y="444.10" font-size="10" text-anchor="middle" fill="#000" font-weight="normal" font-style="normal" >10</text>
<line x1="524.20" y1="427.40" x2="524.20" y2="431.90" stroke="#000" stroke-width="1.1" />
<text x="524.20" y="444.10" font-size="10" text-anchor="middle" fill="#000" font-weight="normal" font-style="normal" >20</text>
<line x1="576.00" y1="427.40" x2="576.00" y2="431.90" stroke="#000" stroke-width="1.1" />
<text x="576.00" y="444.10" font-size="10" text-anchor="middle" fill="#000" font-weight="normal" font-style="normal" >30</text>
<line x1="627.80" y1="427.40" x2="627.80" y2="431.90" stroke="#000" stroke-width="1.1" />
<text x="627.80" y="444.10" font-size="10" text-anchor="middle" fill="#000" font-weight="normal" font-style="normal" >40</text>
<line x1="679.60" y1="427.40" x2="679.60" y2="431.90" stroke="#000" stroke-width="1.1" />
<text x="679.60" y="444.10" font-size="10" text-anchor="middle" fill="#000" font-weight="normal" font-style="normal" >50</text>
<text x="383" y="390.5" font-size="10" text-anchor="middle" transform="rotate(-90 383 390.5)"><tspan font-style="italic">P</tspan><tspan font-size="7" dy="1.8">S</tspan></text>
<text x="374.20" y="458.90" font-size="14" text-anchor="start" fill="#000" font-weight="bold" font-style="normal" >f</text>
<clipPath id="clipf"><rect x="420.6" y="461.6" width="259.0" height="73.89999999999998"/></clipPath>
<g clip-path="url(#clipf)">
<polyline points="424.92,506.41 425.13,509.22 425.34,511.84 425.55,514.19 425.77,516.26 425.98,517.98 426.19,519.34 426.40,520.32 426.62,520.88 426.83,521.03 427.04,520.76 427.25,520.07 427.47,518.98 427.68,517.51 427.89,515.69 428.10,513.54 428.32,511.12 428.53,508.45 428.74,505.60 428.95,502.61 429.16,499.54 429.38,496.44 429.59,493.37 429.80,490.40 430.01,487.56 430.23,484.91 430.44,482.51 430.65,480.39 430.86,478.59 431.08,477.15 431.29,476.09 431.50,475.43 431.71,475.18 431.93,475.35 432.14,475.93 432.35,476.92 432.56,478.29 432.78,480.02 432.99,482.07 433.20,484.42 433.41,487.01 433.63,489.81 433.84,492.75 434.05,495.78 434.26,498.85 434.48,501.91 434.69,504.89 434.90,507.75 435.11,510.43 435.32,512.88 435.54,515.05 435.75,516.92 435.96,518.44 436.17,519.58 436.39,520.33 436.60,520.68 436.81,520.61 437.02,520.13 437.24,519.24 437.45,517.97 437.66,516.34 437.87,514.37 438.09,512.11 438.30,509.59 438.51,506.86 438.72,503.97 438.94,500.98 439.15,497.93 439.36,494.89 439.57,491.90 439.79,489.03 440.00,486.33 440.21,483.84 440.42,481.61 440.64,479.68 440.85,478.09 441.06,476.86 441.27,476.02 441.48,475.58 441.70,475.55 441.91,475.93 442.12,476.71 442.33,477.88 442.55,479.42 442.76,481.29 442.97,483.47 443.18,485.92 443.40,488.58 443.61,491.42 443.82,494.37 444.03,497.38 444.25,500.41 444.46,503.39 444.67,506.27 444.88,509.00 445.10,511.53 445.31,513.81 445.52,515.80 445.73,517.46 445.95,518.77 446.16,519.70 446.37,520.24 446.58,520.36 446.80,520.08 447.01,519.40 447.22,518.33 447.43,516.89 447.64,515.10 447.86,513.01 448.07,510.64 448.28,508.05 448.49,505.27 448.71,502.36 448.92,499.38 449.13,496.37 449.34,493.39 449.56,490.51 449.77,487.76 449.98,485.19 450.19,482.87 450.41,480.82 450.62,479.09 450.83,477.70 451.04,476.69 451.26,476.06 451.47,475.84 451.68,476.02 451.89,476.60 452.11,477.57 452.32,478.92 452.53,480.61 452.74,482.62 452.96,484.91 453.17,487.43 453.38,490.15 453.59,493.01 453.80,495.96 454.02,498.95 454.23,501.91 454.44,504.81 454.65,507.57 454.87,510.17 455.08,512.53 455.29,514.64 455.50,516.44 455.72,517.90 455.93,518.99 456.14,519.71 456.35,520.03 456.57,519.94 456.78,519.46 456.99,518.59 457.20,517.34 457.42,515.74 457.63,513.82 457.84,511.61 458.05,509.15 458.27,506.50 458.48,503.69 458.69,500.78 458.90,497.82 459.12,494.86 459.33,491.97 459.54,489.19 459.75,486.57 459.96,484.16 460.18,482.00 460.39,480.14 460.60,478.61 460.81,477.43 461.03,476.63 461.24,476.22 461.45,476.20 461.66,476.59 461.88,477.36 462.09,478.51 462.30,480.02 462.51,481.86 462.73,483.98 462.94,486.37 463.15,488.96 463.36,491.72 463.58,494.59 463.79,497.52 464.00,500.46 464.21,503.35 464.43,506.14 464.64,508.79 464.85,511.23 465.06,513.43 465.28,515.36 465.49,516.96 465.70,518.22 465.91,519.10 466.12,519.61 466.34,519.71 466.55,519.43 466.76,518.75 466.97,517.69 467.19,516.28 467.40,514.54 467.61,512.49 467.82,510.18 468.04,507.65 468.25,504.95 468.46,502.12 468.67,499.22 468.89,496.30 469.10,493.42 469.31,490.62 469.52,487.95 469.74,485.47 469.95,483.22 470.16,481.25 470.37,479.58 470.59,478.24 470.80,477.27 471.01,476.68 471.22,476.48 471.43,476.67 471.65,477.25 471.86,478.21 472.07,479.53 472.28,481.18 472.50,483.15 472.71,485.38 472.92,487.84 473.13,490.49 473.35,493.27 473.56,496.13 473.77,499.03 473.98,501.91 474.20,504.72 474.41,507.40 474.62,509.91 474.83,512.20 475.05,514.23 475.26,515.96 475.47,517.37 475.68,518.42 475.90,519.10 476.11,519.40 476.32,519.30 476.53,518.82 476.75,517.95 476.96,516.73 477.17,515.16 477.38,513.28 477.59,511.13 477.81,508.74 478.02,506.15 478.23,503.42 478.44,500.59 478.66,497.71 478.87,494.84 479.08,492.04 479.29,489.34 479.51,486.80 479.72,484.47 479.93,482.39 480.14,480.60 480.36,479.12 480.57,477.99 480.78,477.22 480.99,476.84 481.21,476.84 481.42,477.23 481.63,478.00 481.84,479.13 482.06,480.61 482.27,482.40 482.48,484.47 482.69,486.80 482.91,489.32 483.12,492.01 483.33,494.80 483.54,497.64 483.75,500.50 483.97,503.30 484.18,506.01 484.39,508.57 484.60,510.94 484.82,513.07 485.03,514.92 485.24,516.47 485.45,517.67 485.67,518.52 485.88,518.99 486.09,519.08 486.30,518.79 486.52,518.12 486.73,517.08 486.94,515.69 487.15,513.99 487.37,511.99 487.58,509.74 487.79,507.28 488.00,504.65 488.22,501.90 488.43,499.08 488.64,496.24 488.85,493.44 489.07,490.73 489.28,488.14 489.49,485.75 489.70,483.57 489.91,481.66 490.13,480.05 490.34,478.77 490.55,477.84 490.76,477.28 490.98,477.10 491.19,477.30 491.40,477.88 491.61,478.82 491.83,480.12 492.04,481.74 492.25,483.66 492.46,485.83 492.68,488.23 492.89,490.81 493.10,493.51 493.31,496.30 493.53,499.11 493.74,501.91 493.95,504.63 494.16,507.23 494.38,509.66 494.59,511.87 494.80,513.83 495.01,515.51 495.23,516.86 495.44,517.87 495.65,518.51 495.86,518.78 496.07,518.67 496.29,518.19 496.50,517.34 496.71,516.13 496.92,514.60 497.14,512.77 497.35,510.66 497.56,508.33 497.77,505.81 497.99,503.15 498.20,500.40 498.41,497.61 498.62,494.83 498.84,492.11 499.05,489.49 499.26,487.04 499.47,484.78 499.69,482.77 499.90,481.04 500.11,479.62 500.32,478.53 500.54,477.80 500.75,477.44 500.96,477.46 501.17,477.85 501.39,478.61 501.60,479.72 501.81,481.17 502.02,482.92 502.23,484.95 502.45,487.21 502.66,489.67 502.87,492.28 503.08,495.00 503.30,497.76 503.51,500.53 503.72,503.25 503.93,505.88 504.15,508.36 504.36,510.65 504.57,512.71 504.78,514.50 505.00,515.98 505.21,517.14 505.42,517.95 505.63,518.40 505.85,518.47 506.06,518.17 506.27,517.50 506.48,516.48 506.70,515.12 506.91,513.46 507.12,511.51 507.33,509.31 507.55,506.91 507.76,504.35 507.97,501.68 508.18,498.94 508.39,496.19 508.61,493.47 508.82,490.84 509.03,488.34 509.24,486.01 509.46,483.91 509.67,482.07 509.88,480.52 510.09,479.29 510.31,478.40 510.52,477.87 510.73,477.71 510.94,477.92 511.16,478.49 511.37,479.42 511.58,480.69 511.79,482.28 512.01,484.15 512.22,486.27 512.43,488.61 512.64,491.11 512.86,493.75 513.07,496.45 513.28,499.19 513.49,501.90 513.71,504.54 513.92,507.06 514.13,509.41 514.34,511.55 514.55,513.45 514.77,515.06 514.98,516.36 515.19,517.32 515.40,517.94 515.62,518.18 515.83,518.07 516.04,517.58 516.25,516.74 516.47,515.56 516.68,514.06 516.89,512.26 517.10,510.21 517.32,507.94 517.53,505.49 517.74,502.90 517.95,500.23 518.17,497.52 518.38,494.82 518.59,492.17 518.80,489.64 519.02,487.26 519.23,485.08 519.44,483.14 519.65,481.47 519.87,480.10 520.08,479.06 520.29,478.37 520.50,478.03 520.71,478.06 520.93,478.46 521.14,479.21 521.35,480.30 521.56,481.72 521.78,483.43 521.99,485.41 522.20,487.62 522.41,490.01 522.63,492.55 522.84,495.19 523.05,497.88 523.26,500.56 523.48,503.20 523.69,505.75 523.90,508.15 524.11,510.37 524.33,512.36 524.54,514.08 524.75,515.52 524.96,516.63 525.18,517.40 525.39,517.82 525.60,517.88 525.81,517.57 526.03,516.91 526.24,515.90 526.45,514.57 526.66,512.94 526.87,511.04 527.09,508.90 527.30,506.56 527.51,504.07 527.72,501.47 527.94,498.81 528.15,496.14 528.36,493.50 528.57,490.95 528.79,488.52 529.00,486.28 529.21,484.24 529.42,482.47 529.64,480.97 529.85,479.79 530.06,478.94 530.27,478.44 530.49,478.29 530.70,478.51 530.91,479.08 531.12,480.00 531.34,481.25 531.55,482.80 531.76,484.63 531.97,486.70 532.19,488.97 532.40,491.41 532.61,493.97 532.82,496.60 533.03,499.26 533.25,501.89 533.46,504.45 533.67,506.89 533.88,509.16 534.10,511.24 534.31,513.07 534.52,514.62 534.73,515.87 534.95,516.79 535.16,517.38 535.37,517.60 535.58,517.47 535.80,516.99 536.01,516.16 536.22,515.00 536.43,513.53 536.65,511.78 536.86,509.78 537.07,507.57 537.28,505.18 537.50,502.66 537.71,500.06 537.92,497.43 538.13,494.81 538.35,492.25 538.56,489.79 538.77,487.49 538.98,485.38 539.19,483.50 539.41,481.89 539.62,480.57 539.83,479.58 540.04,478.92 540.26,478.61 540.47,478.65 540.68,479.05 540.89,479.79 541.11,480.86 541.32,482.25 541.53,483.92 541.74,485.85 541.96,488.00 542.17,490.34 542.38,492.81 542.59,495.37 542.81,497.98 543.02,500.59 543.23,503.15 543.44,505.62 543.66,507.95 543.87,510.09 544.08,512.01 544.29,513.68 544.51,515.06 544.72,516.13 544.93,516.86 545.14,517.25 545.35,517.30 545.57,516.99 545.78,516.33 545.99,515.34 546.20,514.04 546.42,512.44 546.63,510.58 546.84,508.50 547.05,506.22 547.27,503.80 547.48,501.27 547.69,498.69 547.90,496.09 548.12,493.53 548.33,491.06 548.54,488.71 548.75,486.54 548.97,484.57 549.18,482.85 549.39,481.41 549.60,480.28 549.82,479.46 550.03,478.99 550.24,478.87 550.45,479.09 550.67,479.66 550.88,480.56 551.09,481.79 551.30,483.30 551.51,485.09 551.73,487.11 551.94,489.32 552.15,491.70 552.36,494.19 552.58,496.74 552.79,499.32 553.00,501.87 553.21,504.36 553.43,506.72 553.64,508.92 553.85,510.93 554.06,512.69 554.28,514.19 554.49,515.40 554.70,516.28 554.91,516.83 555.13,517.04 555.34,516.90 555.55,516.42 555.76,515.60 555.98,514.46 556.19,513.02 556.40,511.31 556.61,509.36 556.83,507.20 557.04,504.88 557.25,502.43 557.46,499.91 557.67,497.35 557.89,494.80 558.10,492.32 558.31,489.94 558.52,487.71 558.74,485.67 558.95,483.85 559.16,482.30 559.37,481.03 559.59,480.08 559.80,479.45 560.01,479.16 560.22,479.22 560.44,479.62 560.65,480.35 560.86,481.41 561.07,482.76 561.29,484.40 561.50,486.28 561.71,488.38 561.92,490.65 562.14,493.05 562.35,495.55 562.56,498.08 562.77,500.62 562.99,503.10 563.20,505.49 563.41,507.74 563.62,509.82 563.83,511.68 564.05,513.28 564.26,514.61 564.47,515.64 564.68,516.34 564.90,516.71 565.11,516.73 565.32,516.42 565.53,515.77 565.75,514.80 565.96,513.52 566.17,511.96 566.38,510.15 566.60,508.11 566.81,505.90 567.02,503.54 567.23,501.08 567.45,498.57 567.66,496.05 567.87,493.57 568.08,491.17 568.30,488.89 568.51,486.79 568.72,484.89 568.93,483.23 569.15,481.84 569.36,480.75 569.57,479.98 569.78,479.53 569.99,479.42 570.21,479.65 570.42,480.22 570.63,481.11 570.84,482.31 571.06,483.79 571.27,485.53 571.48,487.50 571.69,489.66 571.91,491.97 572.12,494.39 572.33,496.88 572.54,499.38 572.76,501.86 572.97,504.26 573.18,506.56 573.39,508.69 573.61,510.63 573.82,512.33 574.03,513.78 574.24,514.93 574.46,515.78 574.67,516.30 574.88,516.49 575.09,516.34 575.31,515.86 575.52,515.05 575.73,513.94 575.94,512.53 576.15,510.86 576.37,508.95 576.58,506.85 576.79,504.59 577.00,502.21 577.22,499.75 577.43,497.27 577.64,494.80 577.85,492.39 578.07,490.09 578.28,487.93 578.49,485.95 578.70,484.20 578.92,482.70 579.13,481.48 579.34,480.57 579.55,479.97 579.77,479.70 579.98,479.77 580.19,480.17 580.40,480.89 580.62,481.93 580.83,483.26 581.04,484.86 581.25,486.70 581.47,488.74 581.68,490.95 581.89,493.29 582.10,495.71 582.31,498.18 582.53,500.64 582.74,503.05 582.95,505.36 583.16,507.54 583.38,509.55 583.59,511.35 583.80,512.90 584.01,514.18 584.23,515.16 584.44,515.83 584.65,516.17 584.86,516.19 585.08,515.87 585.29,515.23 585.50,514.27 585.71,513.02 585.93,511.49 586.14,509.72 586.35,507.74 586.56,505.58 586.78,503.29 586.99,500.90 587.20,498.46 587.41,496.01 587.63,493.60 587.84,491.28 588.05,489.07 588.26,487.04 588.47,485.20 588.69,483.60 588.90,482.26 589.11,481.22 589.32,480.48 589.54,480.05 589.75,479.96 589.96,480.20 590.17,480.76 590.39,481.64 590.60,482.81 590.81,484.26 591.02,485.96 591.24,487.88 591.45,489.99 591.66,492.24 591.87,494.59 592.09,497.01 592.30,499.44 592.51,501.84 592.72,504.17 592.94,506.39 593.15,508.46 593.36,510.33 593.57,511.98 593.79,513.37 594.00,514.48 594.21,515.29 594.42,515.79 594.63,515.96 594.85,515.80 595.06,515.32 595.27,514.52 595.48,513.43 595.70,512.05 595.91,510.42 596.12,508.56 596.33,506.51 596.55,504.31 596.76,502.00 596.97,499.61 597.18,497.20 597.40,494.80 597.61,492.46 597.82,490.23 598.03,488.14 598.25,486.23 598.46,484.54 598.67,483.09 598.88,481.92 599.10,481.04 599.31,480.48 599.52,480.23 599.73,480.31 599.95,480.71 600.16,481.42 600.37,482.44 600.58,483.74 600.79,485.31 601.01,487.10 601.22,489.09 601.43,491.24 601.64,493.52 601.86,495.87 602.07,498.27 602.28,500.65 602.49,502.99 602.71,505.24 602.92,507.35 603.13,509.29 603.34,511.03 603.56,512.52 603.77,513.75 603.98,514.70 604.19,515.33 604.41,515.66 604.62,515.66 604.83,515.34 605.04,514.70 605.26,513.76 605.47,512.53 605.68,511.04 605.89,509.31 606.11,507.38 606.32,505.28 606.53,503.05 606.74,500.72 606.95,498.35 607.17,495.98 607.38,493.64 607.59,491.39 607.80,489.25 608.02,487.28 608.23,485.51 608.44,483.96 608.65,482.68 608.87,481.67 609.08,480.96 609.29,480.56 609.50,480.49 609.72,480.73 609.93,481.29 610.14,482.15 610.35,483.30 610.57,484.72 610.78,486.38 610.99,488.25 611.20,490.30 611.42,492.49 611.63,494.78 611.84,497.13 612.05,499.49 612.26,501.82 612.48,504.08 612.69,506.23 612.90,508.23 613.11,510.04 613.33,511.63 613.54,512.97 613.75,514.04 613.96,514.82 614.18,515.29 614.39,515.44 614.60,515.28 614.81,514.80 615.03,514.01 615.24,512.94 615.45,511.59 615.66,509.99 615.88,508.18 616.09,506.19 616.30,504.04 616.51,501.79 616.73,499.47 616.94,497.13 617.15,494.80 617.36,492.54 617.58,490.37 617.79,488.35 618.00,486.50 618.21,484.87 618.42,483.47 618.64,482.35 618.85,481.51 619.06,480.97 619.27,480.74 619.49,480.83 619.70,481.23 619.91,481.94 620.12,482.94 620.34,484.21 620.55,485.74 620.76,487.49 620.97,489.43 621.19,491.52 621.40,493.73 621.61,496.02 621.82,498.35 622.04,500.67 622.25,502.93 622.46,505.11 622.67,507.16 622.89,509.03 623.10,510.71 623.31,512.15 623.52,513.34 623.74,514.24 623.95,514.85 624.16,515.15 624.37,515.14 624.58,514.82 624.80,514.19 625.01,513.26 625.22,512.06 625.43,510.60 625.65,508.92 625.86,507.03 626.07,504.99 626.28,502.81 626.50,500.56 626.71,498.25 626.92,495.95 627.13,493.68 627.35,491.49 627.56,489.43 627.77,487.52 627.98,485.81 628.20,484.32 628.41,483.08 628.62,482.11 628.83,481.43 629.05,481.06 629.26,481.00 629.47,481.24 629.68,481.80 629.90,482.65 630.11,483.78 630.32,485.16 630.53,486.79 630.74,488.61 630.96,490.61 631.17,492.74 631.38,494.96 631.59,497.24 631.81,499.53 632.02,501.80 632.23,503.99 632.44,506.07 632.66,508.01 632.87,509.76 633.08,511.30 633.29,512.59 633.51,513.61 633.72,514.36 633.93,514.80 634.14,514.94 634.36,514.76 634.57,514.29 634.78,513.51 634.99,512.46 635.21,511.14 635.42,509.58 635.63,507.82 635.84,505.87 636.06,503.79 636.27,501.60 636.48,499.34 636.69,497.07 636.90,494.81 637.12,492.61 637.33,490.51 637.54,488.56 637.75,486.77 637.97,485.19 638.18,483.85 638.39,482.76 638.60,481.96 638.82,481.45 639.03,481.24 639.24,481.33 639.45,481.73 639.67,482.43 639.88,483.42 640.09,484.66 640.30,486.15 640.52,487.86 640.73,489.75 640.94,491.79 641.15,493.94 641.37,496.17 641.58,498.43 641.79,500.68 642.00,502.88 642.22,504.99 642.43,506.97 642.64,508.78 642.85,510.40 643.06,511.80 643.28,512.94 643.49,513.80 643.70,514.38 643.91,514.66 644.13,514.64 644.34,514.31 644.55,513.69 644.76,512.78 644.98,511.60 645.19,510.18 645.40,508.53 645.61,506.70 645.83,504.71 646.04,502.59 646.25,500.40 646.46,498.16 646.68,495.92 646.89,493.72 647.10,491.60 647.31,489.60 647.53,487.76 647.74,486.10 647.95,484.66 648.16,483.47 648.38,482.54 648.59,481.89 648.80,481.54 649.01,481.49 649.22,481.74 649.44,482.29 649.65,483.13 649.86,484.24 650.07,485.59 650.29,487.18 650.50,488.96 650.71,490.90 650.92,492.97 651.14,495.14 651.35,497.35 651.56,499.58 651.77,501.77 651.99,503.90 652.20,505.92 652.41,507.79 652.62,509.48 652.84,510.97 653.05,512.21 653.26,513.20 653.47,513.91 653.69,514.33 653.90,514.45 654.11,514.27 654.32,513.79 654.54,513.03 654.75,512.00 654.96,510.71 655.17,509.19 655.38,507.46 655.60,505.57 655.81,503.54 656.02,501.41 656.23,499.22 656.45,497.01 656.66,494.82 656.87,492.69 657.08,490.65 657.30,488.76 657.51,487.03 657.72,485.51 657.93,484.21 658.15,483.17 658.36,482.40 658.57,481.91 658.78,481.72 659.00,481.83 659.21,482.23 659.42,482.92 659.63,483.88 659.85,485.10 660.06,486.56 660.27,488.22 660.48,490.06 660.70,492.05 660.91,494.14 661.12,496.31 661.33,498.50 661.54,500.68 661.76,502.82 661.97,504.86 662.18,506.78 662.39,508.54 662.61,510.10 662.82,511.45 663.03,512.54 663.24,513.37 663.46,513.93 663.67,514.19 663.88,514.15 664.09,513.82 664.31,513.21 664.52,512.32 664.73,511.16 664.94,509.77 665.16,508.16 665.37,506.38 665.58,504.43 665.79,502.38 666.01,500.24 666.22,498.07 666.43,495.90 666.64,493.76 666.86,491.71 667.07,489.77 667.28,487.99 667.49,486.38 667.70,485.00 667.92,483.85 668.13,482.96 668.34,482.34 668.55,482.01 668.77,481.97 668.98,482.23 669.19,482.77 669.40,483.60 669.62,484.68 669.83,486.01 670.04,487.55 670.25,489.29 670.47,491.18 670.68,493.20 670.89,495.30 671.10,497.45 671.32,499.62 671.53,501.75 671.74,503.81 671.95,505.76 672.17,507.57 672.38,509.21 672.59,510.64 672.80,511.84 673.02,512.79 673.23,513.47 673.44,513.86 673.65,513.97 673.86,513.79 674.08,513.31 674.29,512.56 674.50,511.55 674.71,510.29 674.93,508.80 675.14,507.12 675.35,505.28 675.56,503.30 675.78,501.23 675.99,499.10 676.20,496.95 676.41,494.83 676.63,492.76 676.84,490.79 677.05,488.96 677.26,487.29 677.48,485.82 677.69,484.57 677.90,483.56 678.11,482.83 678.33,482.36 678.54,482.19 678.75,482.30 678.96,482.70 679.18,483.38 679.39,484.33 679.60,485.53" fill="none" stroke="#ff8080" stroke-width="2.4" stroke-linejoin="miter" stroke-linejoin="round"/>
<circle cx="424.92" cy="513.10" r="3.3" fill="#ff0000"/>
<circle cx="429.23" cy="506.70" r="3.3" fill="#ff0000"/>
<circle cx="433.55" cy="494.50" r="3.3" fill="#ff0000"/>
<circle cx="437.87" cy="504.90" r="3.3" fill="#ff0000"/>
<circle cx="442.18" cy="479.90" r="3.3" fill="#ff0000"/>
<circle cx="446.50" cy="510.10" r="3.3" fill="#ff0000"/>
<circle cx="450.82" cy="482.10" r="3.3" fill="#ff0000"/>
<circle cx="455.13" cy="510.80" r="3.3" fill="#ff0000"/>
<circle cx="459.45" cy="493.70" r="3.3" fill="#ff0000"/>
<circle cx="463.77" cy="502.60" r="3.3" fill="#ff0000"/>
<circle cx="468.08" cy="500.10" r="3.3" fill="#ff0000"/>
<circle cx="472.40" cy="479.90" r="3.3" fill="#ff0000"/>
<circle cx="476.72" cy="528.00" r="3.3" fill="#ff0000"/>
<circle cx="481.03" cy="478.80" r="3.3" fill="#ff0000"/>
<circle cx="485.35" cy="510.80" r="3.3" fill="#ff0000"/>
<circle cx="489.67" cy="489.50" r="3.3" fill="#ff0000"/>
<circle cx="493.98" cy="505.60" r="3.3" fill="#ff0000"/>
<circle cx="498.30" cy="501.90" r="3.3" fill="#ff0000"/>
<circle cx="502.62" cy="491.90" r="3.3" fill="#ff0000"/>
<circle cx="506.93" cy="506.80" r="3.3" fill="#ff0000"/>
<circle cx="511.25" cy="489.50" r="3.3" fill="#ff0000"/>
<circle cx="515.57" cy="524.70" r="3.3" fill="#ff0000"/>
<circle cx="519.88" cy="475.50" r="3.3" fill="#ff0000"/>
<circle cx="524.20" cy="506.80" r="3.3" fill="#ff0000"/>
<circle cx="528.52" cy="488.90" r="3.3" fill="#ff0000"/>
<circle cx="532.83" cy="495.90" r="3.3" fill="#ff0000"/>
<circle cx="537.15" cy="510.80" r="3.3" fill="#ff0000"/>
<circle cx="541.47" cy="479.60" r="3.3" fill="#ff0000"/>
<circle cx="545.78" cy="516.30" r="3.3" fill="#ff0000"/>
<circle cx="550.10" cy="481.50" r="3.3" fill="#ff0000"/>
<circle cx="554.42" cy="504.90" r="3.3" fill="#ff0000"/>
<circle cx="558.73" cy="493.70" r="3.3" fill="#ff0000"/>
<circle cx="563.05" cy="502.60" r="3.3" fill="#ff0000"/>
<circle cx="567.37" cy="493.40" r="3.3" fill="#ff0000"/>
<circle cx="571.68" cy="496.20" r="3.3" fill="#ff0000"/>
<circle cx="576.00" cy="507.40" r="3.3" fill="#ff0000"/>
<circle cx="580.32" cy="474.80" r="3.3" fill="#ff0000"/>
<circle cx="584.63" cy="515.30" r="3.3" fill="#ff0000"/>
<circle cx="588.95" cy="476.60" r="3.3" fill="#ff0000"/>
<circle cx="593.27" cy="508.90" r="3.3" fill="#ff0000"/>
<circle cx="597.58" cy="503.40" r="3.3" fill="#ff0000"/>
<circle cx="601.90" cy="487.00" r="3.3" fill="#ff0000"/>
<circle cx="606.22" cy="503.40" r="3.3" fill="#ff0000"/>
<circle cx="610.53" cy="491.90" r="3.3" fill="#ff0000"/>
<circle cx="614.85" cy="502.60" r="3.3" fill="#ff0000"/>
<circle cx="619.17" cy="488.90" r="3.3" fill="#ff0000"/>
<circle cx="623.48" cy="513.10" r="3.3" fill="#ff0000"/>
<circle cx="627.80" cy="487.80" r="3.3" fill="#ff0000"/>
<circle cx="632.12" cy="512.30" r="3.3" fill="#ff0000"/>
<circle cx="636.43" cy="501.90" r="3.3" fill="#ff0000"/>
<circle cx="640.75" cy="489.50" r="3.3" fill="#ff0000"/>
<circle cx="645.07" cy="518.00" r="3.3" fill="#ff0000"/>
<circle cx="649.38" cy="478.80" r="3.3" fill="#ff0000"/>
<circle cx="653.70" cy="513.80" r="3.3" fill="#ff0000"/>
<circle cx="658.02" cy="487.80" r="3.3" fill="#ff0000"/>
<circle cx="662.33" cy="497.00" r="3.3" fill="#ff0000"/>
<circle cx="666.65" cy="491.90" r="3.3" fill="#ff0000"/>
<circle cx="670.97" cy="495.20" r="3.3" fill="#ff0000"/>
<circle cx="675.28" cy="497.00" r="3.3" fill="#ff0000"/>
<circle cx="679.60" cy="490.70" r="3.3" fill="#ff0000"/>
</g>
<rect x="420.6" y="461.6" width="259.00" height="73.90" fill="none" stroke="#000" stroke-width="1.1"/>
<line x1="416.10" y1="472.16" x2="420.60" y2="472.16" stroke="#000" stroke-width="1.1" />
<text x="412.30" y="475.76" font-size="10.2" text-anchor="end" fill="#000" font-weight="normal" font-style="normal" >0.75</text>
<line x1="416.10" y1="498.55" x2="420.60" y2="498.55" stroke="#000" stroke-width="1.1" />
<text x="412.30" y="502.15" font-size="10.2" text-anchor="end" fill="#000" font-weight="normal" font-style="normal" >0.50</text>
<line x1="416.10" y1="524.94" x2="420.60" y2="524.94" stroke="#000" stroke-width="1.1" />
<text x="412.30" y="528.54" font-size="10.2" text-anchor="end" fill="#000" font-weight="normal" font-style="normal" >0.25</text>
<line x1="420.60" y1="535.50" x2="420.60" y2="540.00" stroke="#000" stroke-width="1.1" />
<text x="420.60" y="552.20" font-size="10" text-anchor="middle" fill="#000" font-weight="normal" font-style="normal" >0</text>
<line x1="472.40" y1="535.50" x2="472.40" y2="540.00" stroke="#000" stroke-width="1.1" />
<text x="472.40" y="552.20" font-size="10" text-anchor="middle" fill="#000" font-weight="normal" font-style="normal" >10</text>
<line x1="524.20" y1="535.50" x2="524.20" y2="540.00" stroke="#000" stroke-width="1.1" />
<text x="524.20" y="552.20" font-size="10" text-anchor="middle" fill="#000" font-weight="normal" font-style="normal" >20</text>
<line x1="576.00" y1="535.50" x2="576.00" y2="540.00" stroke="#000" stroke-width="1.1" />
<text x="576.00" y="552.20" font-size="10" text-anchor="middle" fill="#000" font-weight="normal" font-style="normal" >30</text>
<line x1="627.80" y1="535.50" x2="627.80" y2="540.00" stroke="#000" stroke-width="1.1" />
<text x="627.80" y="552.20" font-size="10" text-anchor="middle" fill="#000" font-weight="normal" font-style="normal" >40</text>
<line x1="679.60" y1="535.50" x2="679.60" y2="540.00" stroke="#000" stroke-width="1.1" />
<text x="679.60" y="552.20" font-size="10" text-anchor="middle" fill="#000" font-weight="normal" font-style="normal" >50</text>
<text x="383" y="498.6" font-size="10" text-anchor="middle" transform="rotate(-90 383 498.6)"><tspan font-style="italic">P</tspan><tspan font-size="7" dy="1.8">S</tspan></text>
<text x="550" y="567" font-size="10" text-anchor="middle">Interaction time, <tspan font-style="italic">t</tspan><tspan font-size="7" dy="1.8">int</tspan><tspan dy="-1.8"> (ns)</tspan></text>
</svg>
</body></html>
